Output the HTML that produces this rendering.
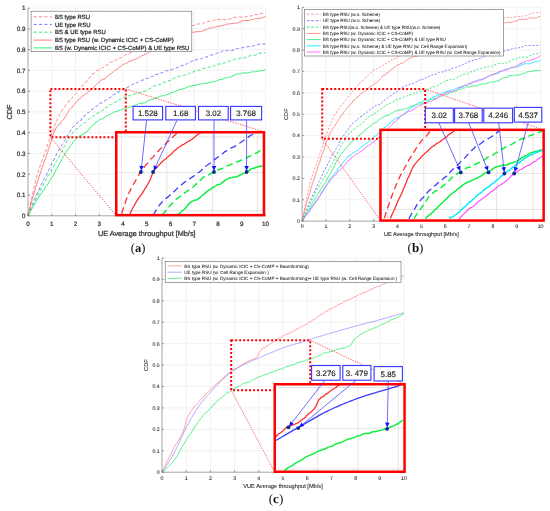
<!DOCTYPE html>
<html><head><meta charset="utf-8"><title>CDF of UE average throughput</title>
<style>html,body{margin:0;padding:0;background:#fff}svg{display:block}</style></head>
<body>
<svg width="550" height="511" viewBox="0 0 550 511" text-rendering="geometricPrecision">
<rect width="550" height="511" fill="#fff"/>
<path d="M51.75 215.8 V8.1 M28 195.03 H265.5 M75.5 215.8 V8.1 M28 174.26 H265.5 M99.25 215.8 V8.1 M28 153.49 H265.5 M123 215.8 V8.1 M28 132.72 H265.5 M146.75 215.8 V8.1 M28 111.95 H265.5 M170.5 215.8 V8.1 M28 91.18 H265.5 M194.25 215.8 V8.1 M28 70.41 H265.5 M218 215.8 V8.1 M28 49.64 H265.5 M241.75 215.8 V8.1 M28 28.87 H265.5 M265.5 215.8 V8.1 M28 8.1 H265.5" stroke="#e9e9e9" stroke-width="0.6" fill="none"/>
<path d="M28 215.8 L29.08 210.34 L30.17 205.21 L31.25 199.95 L32.34 195.23 L33.42 190.55 L34.51 185.65 L35.59 181.07 L36.68 176.97 L37.76 173.3 L38.84 169.64 L39.93 166.45 L41.01 163.02 L42.1 160.17 L43.18 157.46 L44.27 154.28 L45.35 151.64 L46.44 148.72 L47.52 144.92 L48.61 141.68 L49.69 138.8 L50.77 135.91 L51.86 132.64 L52.94 130.88 L54.03 126.96 L55.11 124.37 L56.2 122.58 L57.28 119.47 L58.37 117.5 L59.45 114.67 L60.53 113.7 L61.62 111.45 L62.7 109.12 L63.79 107.3 L64.87 107.09 L65.96 105.13 L67.04 103.53 L68.13 102.64 L69.21 100.63 L70.29 100.53 L71.38 98.78 L72.46 97.93 L73.55 95.66 L74.63 94.85 L75.72 93.65 L76.8 92.81 L77.89 90.2 L78.97 89.32 L80.05 88.18 L81.14 86.9 L82.22 86.07 L83.31 85.33 L84.39 84.29 L85.48 83.21 L86.56 80.98 L87.65 80.6 L88.73 78.86 L89.82 77.36 L90.9 75.78 L91.98 74.3 L93.07 73.82 L94.15 73.28 L95.24 71.96 L96.32 70.85 L97.41 70.4 L98.49 70.02 L99.58 69.67 L100.66 68.79 L101.74 68.29 L102.83 67.21 L103.91 67.15 L105 66.16 L106.08 65.62 L107.17 64.76 L108.25 64.23 L109.34 62.73 L110.42 62.5 L111.5 61.89 L112.59 61.89 L113.67 61.38 L114.76 60.91 L115.84 59.95 L116.93 59.95 L118.01 58.64 L119.1 58.16 L120.18 58.16 L121.26 57.88 L122.35 57.29 L123.43 56.46 L124.52 55.72 L125.6 54.7 L126.69 54.7 L127.77 54.21 L128.86 53.95 L129.94 52.8 L131.03 52.64 L132.11 51.87 L133.19 51.87 L134.28 51.39 L135.36 51.09 L136.45 49.69 L137.53 49.46 L138.62 49.28 L139.7 48.79 L140.79 47.9 L141.87 47.79 L142.95 47.32 L144.04 46.34 L145.12 45.17 L146.21 45.17 L147.29 45.17 L148.38 45.17 L149.46 44.77 L150.55 43.58 L151.63 42.83 L152.71 42.51 L153.8 41.75 L154.88 41.2 L155.97 40.55 L157.05 40.53 L158.14 39.6 L159.22 38.94 L160.31 38.82 L161.39 38.27 L162.47 37.96 L163.56 37.35 L164.64 36.48 L165.73 36.43 L166.81 35.82 L167.9 34.95 L168.98 34.51 L170.07 33.63 L171.15 33.63 L172.24 32.96 L173.32 32.88 L174.4 32.06 L175.49 31.22 L176.57 30.55 L177.66 29.99 L178.74 29.74 L179.83 28.76 L180.91 28.76 L182 28.69 L183.08 28 L184.16 28 L185.25 26.82 L186.33 26.82 L187.42 26.2 L188.5 26.2 L189.59 26.2 L190.67 26.13 L191.76 25.67 L192.84 25.67 L193.92 25.33 L195.01 25.18 L196.09 24.28 L197.18 24.28 L198.26 23.94 L199.35 23.94 L200.43 23.94 L201.52 23.8 L202.6 23.7 L203.68 22.93 L204.77 22.34 L205.85 22.34 L206.94 21.97 L208.02 21.34 L209.11 21.34 L210.19 21.28 L211.28 21.16 L212.36 21.16 L213.45 20.18 L214.53 20.18 L215.61 19.77 L216.7 19.77 L217.78 19.58 L218.87 19.58 L219.95 19.58 L221.04 19.58 L222.12 19.58 L223.21 19.58 L224.29 19.58 L225.37 19.58 L226.46 19.43 L227.54 19.43 L228.63 19.11 L229.71 19.11 L230.8 18.66 L231.88 18.66 L232.97 17.68 L234.05 17.37 L235.13 17.37 L236.22 17.28 L237.3 17.26 L238.39 17.26 L239.47 17.01 L240.56 17.01 L241.64 17.01 L242.73 17.01 L243.81 17.01 L244.89 16.97 L245.98 16.97 L247.06 16.37 L248.15 16.12 L249.23 16.12 L250.32 16.12 L251.4 15.81 L252.49 15.75 L253.57 14.64 L254.66 14.64 L255.74 14.64 L256.82 14.64 L257.91 14.34 L258.99 13.32 L260.08 13.32 L261.16 13.32 L262.25 13.32 L263.33 13.32 L264.42 12.93 L265.5 12.93" stroke="#ff6a6a" stroke-width="0.8" fill="none" stroke-dasharray="3.4 2.1" stroke-linejoin="round"/>
<path d="M28 215.8 L29.08 212.99 L30.17 210.29 L31.25 207.53 L32.34 204.65 L33.42 202.26 L34.51 199.34 L35.59 197.04 L36.68 194.35 L37.76 192.05 L38.84 190.12 L39.93 187.39 L41.01 184.86 L42.1 182.91 L43.18 180.8 L44.27 178.18 L45.35 176.45 L46.44 174.83 L47.52 172.48 L48.61 169.95 L49.69 168.48 L50.77 165.68 L51.86 163.2 L52.94 161.51 L54.03 159.72 L55.11 157.57 L56.2 154.88 L57.28 152.51 L58.37 150.91 L59.45 148.95 L60.53 147.46 L61.62 145.32 L62.7 143.76 L63.79 141.88 L64.87 140.32 L65.96 138.53 L67.04 136.29 L68.13 134.77 L69.21 133.04 L70.29 130.84 L71.38 129.61 L72.46 127.09 L73.55 126.52 L74.63 125.87 L75.72 124.19 L76.8 123.25 L77.89 122.58 L78.97 120.84 L80.05 120.47 L81.14 120.27 L82.22 117.82 L83.31 117.36 L84.39 115.61 L85.48 115.47 L86.56 114.67 L87.65 112.67 L88.73 112.67 L89.82 111.26 L90.9 109.88 L91.98 109.49 L93.07 108.72 L94.15 107.88 L95.24 106.85 L96.32 106.71 L97.41 105.44 L98.49 104.7 L99.58 103.29 L100.66 103.29 L101.74 103.06 L102.83 101.73 L103.91 101.44 L105 100.47 L106.08 99.82 L107.17 98.72 L108.25 98.64 L109.34 97.67 L110.42 97.67 L111.5 96.46 L112.59 94.81 L113.67 94.81 L114.76 94.21 L115.84 93.77 L116.93 92.46 L118.01 92 L119.1 91.9 L120.18 90.62 L121.26 90.19 L122.35 89.46 L123.43 89.45 L124.52 88.04 L125.6 88.02 L126.69 87.72 L127.77 87.37 L128.86 86.77 L129.94 85.75 L131.03 85.58 L132.11 84.49 L133.19 84.1 L134.28 83.24 L135.36 82.87 L136.45 82.68 L137.53 82.68 L138.62 81.62 L139.7 80.98 L140.79 80.77 L141.87 80.18 L142.95 80.12 L144.04 79.69 L145.12 79.51 L146.21 78.27 L147.29 78.27 L148.38 78.22 L149.46 78.18 L150.55 77.37 L151.63 76.31 L152.71 76.23 L153.8 76.23 L154.88 74.98 L155.97 74.55 L157.05 74.28 L158.14 73.94 L159.22 73.4 L160.31 73.22 L161.39 72.73 L162.47 72.73 L163.56 71.65 L164.64 71.65 L165.73 70.74 L166.81 70.74 L167.9 70.65 L168.98 70.24 L170.07 70.24 L171.15 69.81 L172.24 69.37 L173.32 69.06 L174.4 69.06 L175.49 68.57 L176.57 67.75 L177.66 67.26 L178.74 67.26 L179.83 66.84 L180.91 66.26 L182 65.42 L183.08 65.42 L184.16 65.25 L185.25 64.18 L186.33 64.12 L187.42 63.4 L188.5 62.62 L189.59 61.96 L190.67 61.96 L191.76 60.82 L192.84 60.82 L193.92 60.03 L195.01 60.03 L196.09 60.03 L197.18 59.35 L198.26 59.35 L199.35 59.35 L200.43 59.11 L201.52 58.44 L202.6 58.25 L203.68 57.86 L204.77 57.08 L205.85 57.08 L206.94 56.91 L208.02 56.56 L209.11 55.59 L210.19 55.32 L211.28 54.87 L212.36 54.87 L213.45 54.77 L214.53 54.08 L215.61 54.08 L216.7 53.33 L217.78 52.97 L218.87 52.97 L219.95 52.5 L221.04 52.13 L222.12 51.06 L223.21 50.65 L224.29 50.65 L225.37 50.65 L226.46 50.65 L227.54 50.65 L228.63 50.65 L229.71 50.65 L230.8 50.65 L231.88 50.65 L232.97 50.37 L234.05 49.84 L235.13 49.84 L236.22 48.78 L237.3 48.38 L238.39 48.38 L239.47 48.38 L240.56 47.75 L241.64 47.72 L242.73 47.72 L243.81 47.31 L244.89 47.19 L245.98 47.18 L247.06 46.8 L248.15 46.8 L249.23 46.41 L250.32 46.41 L251.4 46.41 L252.49 46.2 L253.57 45.76 L254.66 45.64 L255.74 45.64 L256.82 44.91 L257.91 44.87 L258.99 44.15 L260.08 44.15 L261.16 44.15 L262.25 44.15 L263.33 44.04 L264.42 44.04 L265.5 44.04" stroke="#7474ff" stroke-width="0.95" fill="none" stroke-dasharray="3.4 2.1" stroke-linejoin="round"/>
<path d="M28 215.8 L29.08 213.41 L30.17 211.13 L31.25 208.73 L32.34 206.53 L33.42 204.33 L34.51 202.09 L35.59 199.74 L36.68 197.83 L37.76 195.59 L38.84 193.47 L39.93 191.65 L41.01 188.82 L42.1 186.91 L43.18 185.05 L44.27 182.68 L45.35 181.4 L46.44 179.14 L47.52 176.51 L48.61 174.85 L49.69 174.1 L50.77 172.56 L51.86 169.76 L52.94 167.05 L54.03 165.71 L55.11 163.71 L56.2 161.5 L57.28 160.11 L58.37 157.69 L59.45 155.46 L60.53 153.55 L61.62 151.53 L62.7 149.75 L63.79 147.11 L64.87 145.47 L65.96 142.87 L67.04 140.49 L68.13 139.88 L69.21 138.67 L70.29 136.4 L71.38 134.62 L72.46 132.91 L73.55 131.65 L74.63 131.22 L75.72 130.19 L76.8 128.46 L77.89 128.43 L78.97 126.78 L80.05 126.48 L81.14 125.31 L82.22 124.51 L83.31 123.64 L84.39 122.78 L85.48 122.61 L86.56 121.21 L87.65 120.4 L88.73 119.37 L89.82 118.12 L90.9 117.78 L91.98 117.06 L93.07 116.24 L94.15 115.44 L95.24 114.41 L96.32 114.37 L97.41 113.03 L98.49 112.77 L99.58 112.39 L100.66 112.12 L101.74 110.79 L102.83 109.88 L103.91 109.88 L105 108.22 L106.08 107.32 L107.17 107.09 L108.25 106.31 L109.34 104.87 L110.42 104.61 L111.5 104.61 L112.59 103.69 L113.67 103.07 L114.76 102.41 L115.84 102.41 L116.93 100.81 L118.01 100.72 L119.1 99.82 L120.18 99.36 L121.26 98.42 L122.35 98.38 L123.43 98.14 L124.52 97.24 L125.6 96.52 L126.69 96.52 L127.77 95.8 L128.86 95.8 L129.94 95.8 L131.03 94.71 L132.11 94.71 L133.19 94.25 L134.28 94.25 L135.36 93.83 L136.45 93.83 L137.53 93.68 L138.62 92.65 L139.7 92.65 L140.79 92.39 L141.87 92.24 L142.95 91.57 L144.04 91.57 L145.12 91.21 L146.21 90.34 L147.29 90.08 L148.38 89.51 L149.46 88.74 L150.55 88.24 L151.63 87.77 L152.71 86.56 L153.8 86.29 L154.88 85.69 L155.97 85.65 L157.05 85.31 L158.14 85.23 L159.22 84.46 L160.31 84.46 L161.39 83.83 L162.47 82.97 L163.56 82.29 L164.64 82.18 L165.73 82.18 L166.81 81.51 L167.9 81.51 L168.98 80.54 L170.07 80.47 L171.15 79.7 L172.24 78.64 L173.32 78.64 L174.4 77.83 L175.49 77.83 L176.57 77.83 L177.66 76.86 L178.74 76.27 L179.83 76.27 L180.91 76.21 L182 76.21 L183.08 75.7 L184.16 74.99 L185.25 74.99 L186.33 74.94 L187.42 74.8 L188.5 73.69 L189.59 73.09 L190.67 72.74 L191.76 72.44 L192.84 72.44 L193.92 71.06 L195.01 71.06 L196.09 71.06 L197.18 70.39 L198.26 70.39 L199.35 70.02 L200.43 69.71 L201.52 69.17 L202.6 68.44 L203.68 68.41 L204.77 68.41 L205.85 68 L206.94 67.45 L208.02 67.13 L209.11 67.13 L210.19 67.13 L211.28 66.15 L212.36 65.96 L213.45 65.83 L214.53 65.83 L215.61 64.64 L216.7 64.64 L217.78 64.64 L218.87 63.92 L219.95 63.92 L221.04 63.92 L222.12 63.92 L223.21 63.17 L224.29 63.17 L225.37 62.63 L226.46 62.2 L227.54 62.17 L228.63 60.98 L229.71 60.98 L230.8 60.79 L231.88 60.22 L232.97 60.04 L234.05 59.39 L235.13 58.89 L236.22 58.89 L237.3 58.89 L238.39 58.77 L239.47 58.59 L240.56 58.03 L241.64 58.03 L242.73 57.93 L243.81 57.93 L244.89 57.93 L245.98 56.99 L247.06 56.99 L248.15 56.65 L249.23 55.77 L250.32 55.77 L251.4 55.7 L252.49 55.7 L253.57 55.34 L254.66 55.34 L255.74 54.76 L256.82 54.56 L257.91 54.05 L258.99 53.25 L260.08 53.25 L261.16 53.09 L262.25 53.09 L263.33 52.93 L264.42 52.9 L265.5 52.9" stroke="#38e87c" stroke-width="1.0" fill="none" stroke-dasharray="3.4 2.1" stroke-linejoin="round"/>
<path d="M28 215.8 L29.08 211.47 L30.17 207.27 L31.25 203.05 L32.34 198.98 L33.42 195.12 L34.51 191.45 L35.59 187.8 L36.68 184.19 L37.76 181.19 L38.84 177.56 L39.93 174.3 L41.01 171.1 L42.1 167.51 L43.18 164.89 L44.27 161.18 L45.35 158.64 L46.44 155.47 L47.52 152.46 L48.61 148.63 L49.69 145.8 L50.77 141.89 L51.86 138.97 L52.94 135.06 L54.03 132.09 L55.11 130.43 L56.2 127.88 L57.28 126.59 L58.37 124.61 L59.45 124.08 L60.53 123.44 L61.62 121.01 L62.7 120.26 L63.79 119.14 L64.87 117.28 L65.96 115.86 L67.04 113.58 L68.13 112.31 L69.21 109.83 L70.29 108.64 L71.38 108.06 L72.46 106.65 L73.55 105.01 L74.63 104.32 L75.72 102.53 L76.8 101.47 L77.89 100.77 L78.97 99.71 L80.05 98.36 L81.14 97.09 L82.22 96.17 L83.31 95.84 L84.39 94.66 L85.48 94.4 L86.56 93.07 L87.65 92.67 L88.73 91.12 L89.82 90.93 L90.9 89.91 L91.98 88.64 L93.07 87.5 L94.15 87.23 L95.24 85.88 L96.32 84.62 L97.41 83.57 L98.49 82.96 L99.58 81.59 L100.66 80.92 L101.74 79.6 L102.83 79.21 L103.91 79.2 L105 78.81 L106.08 77.22 L107.17 76.08 L108.25 75.62 L109.34 74.52 L110.42 74.2 L111.5 73.71 L112.59 72.1 L113.67 71.55 L114.76 70.51 L115.84 70.42 L116.93 69 L118.01 68.48 L119.1 67.15 L120.18 66.91 L121.26 66.19 L122.35 65.49 L123.43 64.14 L124.52 63.98 L125.6 63.67 L126.69 63.18 L127.77 62.63 L128.86 61.16 L129.94 61.16 L131.03 61.16 L132.11 60.36 L133.19 59.81 L134.28 59.81 L135.36 59.29 L136.45 58.85 L137.53 58.17 L138.62 57.92 L139.7 56.72 L140.79 56.66 L141.87 55.55 L142.95 55.55 L144.04 54.6 L145.12 54.6 L146.21 54.41 L147.29 53.09 L148.38 52.99 L149.46 51.91 L150.55 51.88 L151.63 50.33 L152.71 50.33 L153.8 50.22 L154.88 49.16 L155.97 48.32 L157.05 48.32 L158.14 47.28 L159.22 46.08 L160.31 45.9 L161.39 45.61 L162.47 45.21 L163.56 44.18 L164.64 44.18 L165.73 44.18 L166.81 43.24 L167.9 43.02 L168.98 41.61 L170.07 41.61 L171.15 41.61 L172.24 41.61 L173.32 40.65 L174.4 40.65 L175.49 40.22 L176.57 39.63 L177.66 39.16 L178.74 38.77 L179.83 38.2 L180.91 37.11 L182 36.31 L183.08 36.31 L184.16 34.71 L185.25 34.71 L186.33 33.97 L187.42 33.97 L188.5 33.61 L189.59 33.31 L190.67 33.01 L191.76 32.41 L192.84 32.18 L193.92 32.18 L195.01 32.11 L196.09 31.69 L197.18 31.62 L198.26 31.62 L199.35 31.62 L200.43 31.62 L201.52 31.62 L202.6 31.38 L203.68 29.91 L204.77 29.91 L205.85 29.66 L206.94 29.58 L208.02 28.43 L209.11 28.03 L210.19 28.03 L211.28 28.02 L212.36 28.02 L213.45 27.09 L214.53 27.09 L215.61 27.09 L216.7 26.52 L217.78 26.52 L218.87 26.26 L219.95 26 L221.04 26 L222.12 25.77 L223.21 25.12 L224.29 25.12 L225.37 25.12 L226.46 23.98 L227.54 23.98 L228.63 23.98 L229.71 23.98 L230.8 23.72 L231.88 23.45 L232.97 23.45 L234.05 23.16 L235.13 23.16 L236.22 23.16 L237.3 23.1 L238.39 22.65 L239.47 22.19 L240.56 22.19 L241.64 20.65 L242.73 20.65 L243.81 20.65 L244.89 20.65 L245.98 20.5 L247.06 20.5 L248.15 20.5 L249.23 20.5 L250.32 19.67 L251.4 19.67 L252.49 19.67 L253.57 19.67 L254.66 18.68 L255.74 18.68 L256.82 18.68 L257.91 18.59 L258.99 18.37 L260.08 18.37 L261.16 17.99 L262.25 17.58 L263.33 17.25 L264.42 16.76 L265.5 16.76" stroke="#ff6a6a" stroke-width="0.85" fill="none" stroke-linejoin="round"/>
<path d="M28 215.8 L29.08 213.81 L30.17 211.94 L31.25 210.06 L32.34 207.97 L33.42 206.09 L34.51 204.42 L35.59 202.23 L36.68 200.56 L37.76 198.56 L38.84 197 L39.93 195.16 L41.01 193.62 L42.1 192.36 L43.18 190.58 L44.27 189.18 L45.35 187.15 L46.44 186.29 L47.52 184.98 L48.61 182.61 L49.69 180.86 L50.77 178.92 L51.86 177.19 L52.94 176.26 L54.03 173.99 L55.11 171.89 L56.2 169.55 L57.28 168.3 L58.37 165.57 L59.45 163.53 L60.53 162.06 L61.62 159.76 L62.7 157.52 L63.79 156.18 L64.87 154.01 L65.96 152.31 L67.04 150.83 L68.13 149.17 L69.21 147.81 L70.29 145.61 L71.38 144.73 L72.46 143.35 L73.55 141.46 L74.63 140.73 L75.72 139.16 L76.8 137.88 L77.89 137.29 L78.97 136.49 L80.05 135.52 L81.14 134.94 L82.22 134.94 L83.31 134.43 L84.39 132.75 L85.48 132.36 L86.56 132.26 L87.65 130.92 L88.73 129.32 L89.82 128.61 L90.9 126.97 L91.98 126.03 L93.07 124.85 L94.15 124.57 L95.24 123.03 L96.32 121.7 L97.41 121.7 L98.49 120.4 L99.58 119.84 L100.66 119.32 L101.74 118.96 L102.83 118.75 L103.91 118.05 L105 116.85 L106.08 116.19 L107.17 115.54 L108.25 115.01 L109.34 114.41 L110.42 114.31 L111.5 114 L112.59 112.9 L113.67 112.22 L114.76 111.87 L115.84 111.87 L116.93 111.29 L118.01 111.27 L119.1 110.29 L120.18 110.29 L121.26 109.71 L122.35 109.22 L123.43 109 L124.52 108.26 L125.6 108.26 L126.69 108.26 L127.77 107.68 L128.86 107.26 L129.94 106.77 L131.03 106.73 L132.11 106.17 L133.19 105.87 L134.28 105.87 L135.36 105.23 L136.45 104.48 L137.53 104.48 L138.62 103.46 L139.7 103.46 L140.79 103.46 L141.87 103.02 L142.95 103.02 L144.04 103.02 L145.12 102.79 L146.21 102.07 L147.29 100.74 L148.38 100.66 L149.46 100.11 L150.55 100.02 L151.63 99.19 L152.71 99.13 L153.8 99.13 L154.88 98.67 L155.97 98.08 L157.05 97.37 L158.14 97.37 L159.22 96.96 L160.31 96.06 L161.39 96.06 L162.47 96.06 L163.56 95.47 L164.64 95.35 L165.73 95.13 L166.81 94.57 L167.9 94.37 L168.98 93.64 L170.07 93.56 L171.15 92.73 L172.24 92.73 L173.32 92.46 L174.4 91.65 L175.49 91.42 L176.57 90.52 L177.66 90.35 L178.74 90.08 L179.83 89.42 L180.91 89.37 L182 89.37 L183.08 88.96 L184.16 88.51 L185.25 88.08 L186.33 87.55 L187.42 86.99 L188.5 86.87 L189.59 86.16 L190.67 86.1 L191.76 86.1 L192.84 85.48 L193.92 85.41 L195.01 85.41 L196.09 85.17 L197.18 84.61 L198.26 84.61 L199.35 84.12 L200.43 84.1 L201.52 83.79 L202.6 83.79 L203.68 83.55 L204.77 83.55 L205.85 83.09 L206.94 83.09 L208.02 82.87 L209.11 82.28 L210.19 82.28 L211.28 82.27 L212.36 81.81 L213.45 81.81 L214.53 81.8 L215.61 81.33 L216.7 80.93 L217.78 80.18 L218.87 80.18 L219.95 79.47 L221.04 79.47 L222.12 79.39 L223.21 78.81 L224.29 78.08 L225.37 78.08 L226.46 78.08 L227.54 77.47 L228.63 77.34 L229.71 77.34 L230.8 77.01 L231.88 76.5 L232.97 75.82 L234.05 75.24 L235.13 75.24 L236.22 73.91 L237.3 73.91 L238.39 73.91 L239.47 73.91 L240.56 73.91 L241.64 73 L242.73 73 L243.81 73 L244.89 73 L245.98 73 L247.06 73 L248.15 72.71 L249.23 72.71 L250.32 72.03 L251.4 72.03 L252.49 72.03 L253.57 71.74 L254.66 71.74 L255.74 71.74 L256.82 71.34 L257.91 71.34 L258.99 71.17 L260.08 70.73 L261.16 70.73 L262.25 70.39 L263.33 70.39 L264.42 70.39 L265.5 69.09" stroke="#34ee78" stroke-width="1.0" fill="none" stroke-linejoin="round"/>
<path d="M28 8.1 V215.8 H265.5 M28 215.8 v-2 M28 215.8 h2 M51.75 215.8 v-2 M28 195.03 h2 M75.5 215.8 v-2 M28 174.26 h2 M99.25 215.8 v-2 M28 153.49 h2 M123 215.8 v-2 M28 132.72 h2 M146.75 215.8 v-2 M28 111.95 h2 M170.5 215.8 v-2 M28 91.18 h2 M194.25 215.8 v-2 M28 70.41 h2 M218 215.8 v-2 M28 49.64 h2 M241.75 215.8 v-2 M28 28.87 h2 M265.5 215.8 v-2 M28 8.1 h2" stroke="#5a5a5a" stroke-width="0.55" fill="none"/>
<g font-family='"Liberation Sans", Arial, sans-serif' font-size="6.3" fill="#2c2c2c" stroke="#2c2c2c" stroke-width="0.19">
<text x="28" y="225.6" text-anchor="middle">0</text>
<text x="51.75" y="225.6" text-anchor="middle">1</text>
<text x="75.5" y="225.6" text-anchor="middle">2</text>
<text x="99.25" y="225.6" text-anchor="middle">3</text>
<text x="123" y="225.6" text-anchor="middle">4</text>
<text x="146.75" y="225.6" text-anchor="middle">5</text>
<text x="170.5" y="225.6" text-anchor="middle">6</text>
<text x="194.25" y="225.6" text-anchor="middle">7</text>
<text x="218" y="225.6" text-anchor="middle">8</text>
<text x="241.75" y="225.6" text-anchor="middle">9</text>
<text x="265.5" y="225.6" text-anchor="middle">10</text>
<text x="25.6" y="218.07" text-anchor="end">0</text>
<text x="25.6" y="197.3" text-anchor="end">0.1</text>
<text x="25.6" y="176.53" text-anchor="end">0.2</text>
<text x="25.6" y="155.76" text-anchor="end">0.3</text>
<text x="25.6" y="134.99" text-anchor="end">0.4</text>
<text x="25.6" y="114.22" text-anchor="end">0.5</text>
<text x="25.6" y="93.45" text-anchor="end">0.6</text>
<text x="25.6" y="72.68" text-anchor="end">0.7</text>
<text x="25.6" y="51.91" text-anchor="end">0.8</text>
<text x="25.6" y="31.14" text-anchor="end">0.9</text>
<text x="25.6" y="10.37" text-anchor="end">1</text>
</g>
<g font-family='"Liberation Sans", Arial, sans-serif' font-size="7.3" fill="#2c2c2c" stroke="#2c2c2c" stroke-width="0.23">
<text x="146.75" y="235.5" text-anchor="middle">UE Average throughput [Mb/s]</text>
<text transform="translate(12 111.95) rotate(-90)" text-anchor="middle">CDF</text>
</g>
<rect x="31.1" y="11.2" width="160.7" height="40.5" fill="#fff" stroke="#666" stroke-width="0.6"/>
<g font-family='"Liberation Sans", Arial, sans-serif' font-size="5.99" fill="#222" stroke="#222" stroke-width="0.21">
<path d="M33.6 16.8 H52.1" stroke="#ff6a6a" stroke-width="0.8" stroke-dasharray="3.1 2.3"/>
<text x="54.9" y="18.96">BS type RSU</text>
<path d="M33.6 24.4 H52.1" stroke="#7474ff" stroke-width="0.95" stroke-dasharray="3.1 2.3"/>
<text x="54.9" y="26.56">UE type RSU</text>
<path d="M33.6 32.2 H52.1" stroke="#38e87c" stroke-width="1.0" stroke-dasharray="3.1 2.3"/>
<text x="54.9" y="34.36">BS &amp; UE type RSU</text>
<path d="M33.6 40.1 H52.1" stroke="#ff6a6a" stroke-width="0.85"/>
<text x="54.9" y="42.26">BS type RSU (w. Dynamic ICIC + CS-CoMP)</text>
<path d="M33.6 47.9 H52.1" stroke="#34ee78" stroke-width="1.0"/>
<text x="54.9" y="50.06">BS (w. Dynamic ICIC + CS-CoMP) &amp; UE type RSU</text>
</g>
<rect x="50.4" y="89" width="75.4" height="48.2" fill="none" stroke="#ff0000" stroke-width="2" stroke-dasharray="2 2"/>
<path d="M50.4 137.2 L116 215.5" stroke="#ff2020" stroke-width="0.7" stroke-dasharray="1.4 1.2" fill="none"/>
<path d="M125.8 89 L264.5 132" stroke="#ff2020" stroke-width="0.7" stroke-dasharray="1.4 1.2" fill="none"/>
<rect x="115" y="131" width="150.2" height="85.4" fill="#fff"/>
<clipPath id="c115"><rect x="116.25" y="132.25" width="147.7" height="82.9"/></clipPath>
<path d="M121.4 131 V216.4 M166.8 131 V216.4 M212.4 131 V216.4 M257.4 131 V216.4 M115 137.1 H265.2 M115 172.6 H265.2 M115 210.7 H265.2" stroke="#d8d8d8" stroke-width="0.65" fill="none"/>
<g clip-path="url(#c115)" fill="none" stroke-linejoin="round">
<path d="M121.7 213.5 L122.69 209.99 L123.68 207.28 L124.66 204.64 L125.65 201.54 L126.64 198.65 L127.63 196.21 L128.62 193.73 L129.61 191.55 L130.59 189.59 L131.58 187.5 L132.57 185.71 L133.56 183.99 L134.55 182.44 L135.53 180.9 L136.52 178.66 L137.51 176.98 L138.5 175.56 L139.49 173.66 L140.47 172.51 L141.46 171.2 L142.45 169.62 L143.44 168.56 L144.43 167.17 L145.42 165.54 L146.4 164.44 L147.39 163.57 L148.38 162.39 L149.37 160.71 L150.36 159.34 L151.34 158.44 L152.33 157.77 L153.32 156.86 L154.31 155.59 L155.3 154.58 L156.28 153.33 L157.27 152.16 L158.26 151.27 L159.25 150 L160.24 148.91 L161.23 148.19 L162.21 147.03 L163.2 146.09 L164.19 145.45 L165.18 144.52 L166.17 143.28 L167.15 142.15 L168.14 141.57 L169.13 140.71 L170.12 139.35 L171.11 138.29 L172.09 137.71 L173.08 136.7 L174.07 135.57 L175.06 135.09 L176.05 134.08 L177.04 132.69 L178.02 131.61 L179.01 130.61 L180 130" stroke="#ff3030" stroke-width="1.3" stroke-dasharray="6.5 3.8"/>
<path d="M129.6 215 L130.84 212.04 L132.09 209.27 L133.33 206.97 L134.58 204.91 L135.82 202.6 L137.06 200.6 L138.31 198.81 L139.55 196.98 L140.8 195.4 L142.04 193.64 L143.28 191.56 L144.53 189.46 L145.77 187.66 L147.02 185.44 L148.26 183.22 L149.51 181.16 L150.75 178.48 L151.99 174.78 L153.24 171.74 L154.48 169.91 L155.73 168.28 L156.97 166.88 L158.21 165.84 L159.46 164.65 L160.7 163.19 L161.95 161.93 L163.19 160.63 L164.43 159.76 L165.68 158.97 L166.92 157.81 L168.17 156.62 L169.41 155.45 L170.65 154.55 L171.9 153.55 L173.14 152.05 L174.39 150.85 L175.63 149.94 L176.87 148.59 L178.12 147.72 L179.36 146.93 L180.61 145.99 L181.85 145.17 L183.09 144.55 L184.34 143.99 L185.58 143.22 L186.83 142.32 L188.07 141.49 L189.32 140.89 L190.56 140.33 L191.8 139.36 L193.05 138.46 L194.29 137.53 L195.54 136.15 L196.78 135.33 L198.02 134.44 L199.27 133.5 L200.51 132.98 L201.76 131.99 L203 131" stroke="#ff3030" stroke-width="1.3"/>
<path d="M153.1 215 L154.88 212.35 L156.66 209.08 L158.43 206.56 L160.21 204.21 L161.99 202.11 L163.77 200.55 L165.55 198.67 L167.32 197.4 L169.1 196.1 L170.88 194.05 L172.66 192.7 L174.44 191.27 L176.21 189.36 L177.99 187.84 L179.77 186.37 L181.55 184.76 L183.33 183.27 L185.1 181.85 L186.88 180.8 L188.66 179.61 L190.44 178.29 L192.22 177.17 L193.99 175.86 L195.77 174.32 L197.55 172.96 L199.33 171.97 L201.11 170.47 L202.88 168.63 L204.66 167.08 L206.44 165.69 L208.22 164.48 L209.99 163.16 L211.77 161.8 L213.55 160.37 L215.33 158.89 L217.11 157.68 L218.88 156.53 L220.66 155.21 L222.44 153.74 L224.22 152.18 L226 151.12 L227.77 150.29 L229.55 148.87 L231.33 147.87 L233.11 147.2 L234.89 146.3 L236.66 144.97 L238.44 143.44 L240.22 142.74 L242 141.58 L243.78 140.2 L245.55 139.13 L247.33 137.82 L249.11 136.38 L250.89 135.22 L252.67 134.48 L254.44 133.43 L256.22 132.22 L258 131" stroke="#3c3cff" stroke-width="1.3" stroke-dasharray="6.5 3.8"/>
<path d="M161.9 215 L163.61 213.3 L165.32 211.24 L167.03 208.94 L168.73 206.95 L170.44 205.18 L172.15 203.36 L173.86 201.82 L175.57 199.86 L177.28 198.28 L178.98 197.24 L180.69 196.02 L182.4 194.76 L184.11 193.41 L185.82 192.07 L187.53 190.85 L189.24 189.72 L190.94 188.77 L192.65 187.44 L194.36 185.81 L196.07 184.1 L197.78 182.72 L199.49 181.41 L201.19 179.42 L202.9 177.59 L204.61 176.53 L206.32 175.62 L208.03 175.03 L209.74 174.34 L211.45 173.06 L213.15 172.15 L214.86 171.76 L216.57 170.82 L218.28 169.82 L219.99 169.22 L221.7 168.52 L223.41 167.76 L225.11 166.69 L226.82 165.99 L228.53 165.4 L230.24 164.81 L231.95 164.13 L233.66 163.63 L235.36 162.94 L237.07 162 L238.78 161.22 L240.49 160.48 L242.2 159.88 L243.91 159.15 L245.62 158.51 L247.32 157.57 L249.03 156.43 L250.74 155.86 L252.45 155.08 L254.16 153.9 L255.87 153.27 L257.57 152.62 L259.28 151.05 L260.99 149.92 L262.7 149.5" stroke="#10ee40" stroke-width="1.5" stroke-dasharray="6.5 3.8"/>
<path d="M176.5 215 L177.96 214.25 L179.42 213.41 L180.88 212.27 L182.34 210.76 L183.81 209.63 L185.27 208.21 L186.73 206.45 L188.19 204.67 L189.65 202.91 L191.11 201.98 L192.57 201.14 L194.03 200.28 L195.49 200.15 L196.95 199.62 L198.42 198.78 L199.88 197.71 L201.34 196.26 L202.8 195 L204.26 193.8 L205.72 192.58 L207.18 191.37 L208.64 190.38 L210.1 189.48 L211.56 188.37 L213.03 187.38 L214.49 186.75 L215.95 185.75 L217.41 184.64 L218.87 184.41 L220.33 184.15 L221.79 182.98 L223.25 181.81 L224.71 180.63 L226.17 179.39 L227.64 178.83 L229.1 178.23 L230.56 177.85 L232.02 177.58 L233.48 177.1 L234.94 177.1 L236.4 177.04 L237.86 176.17 L239.32 175.48 L240.78 174.74 L242.25 173.81 L243.71 173.38 L245.17 173.02 L246.63 172.14 L248.09 171.17 L249.55 170.37 L251.01 169.15 L252.47 168.31 L253.93 168.19 L255.39 167.68 L256.86 167.03 L258.32 166.76 L259.78 166.19 L261.24 165.98 L262.7 165.7" stroke="#10ee40" stroke-width="1.5"/>
</g>
<rect x="116.25" y="132.25" width="147.7" height="82.9" fill="none" stroke="#ff0000" stroke-width="2.5"/>
<path d="M146.5 120.3 L141.2 170.5" stroke="#3c3cff" stroke-width="0.75" fill="none"/>
<path d="M141.2 170.5 L143.97 166.17 L139.4 165.68 Z" fill="#1010ff"/>
<path d="M177 120.3 L153.8 170.5" stroke="#3c3cff" stroke-width="0.75" fill="none"/>
<path d="M153.8 170.5 L157.82 167.29 L153.64 165.36 Z" fill="#1010ff"/>
<path d="M214 120.3 L214 170.5" stroke="#3c3cff" stroke-width="0.75" fill="none"/>
<path d="M214 170.5 L216.3 165.9 L211.7 165.9 Z" fill="#1010ff"/>
<path d="M246.6 120.3 L246.6 170.5" stroke="#3c3cff" stroke-width="0.75" fill="none"/>
<path d="M246.6 170.5 L248.9 165.9 L244.3 165.9 Z" fill="#1010ff"/>
<circle cx="140.9" cy="172" r="1.9" fill="#0a2a8c"/>
<circle cx="153.1" cy="172" r="1.9" fill="#0a2a8c"/>
<circle cx="214" cy="172" r="1.9" fill="#0a2a8c"/>
<circle cx="246.6" cy="172" r="1.9" fill="#0a2a8c"/>
<rect x="133.1" y="106.4" width="29.5" height="13.5" fill="#fff" stroke="#3535ff" stroke-width="1.1"/>
<text x="147.85" y="116" text-anchor="middle" font-family='"Liberation Sans", Arial, sans-serif' font-size="7.9" fill="#1a1a1a" stroke="#1a1a1a" stroke-width="0.15">1.528</text>
<rect x="165.8" y="106.4" width="29.6" height="13.5" fill="#fff" stroke="#3535ff" stroke-width="1.1"/>
<text x="180.6" y="116" text-anchor="middle" font-family='"Liberation Sans", Arial, sans-serif' font-size="7.9" fill="#1a1a1a" stroke="#1a1a1a" stroke-width="0.15">1.68</text>
<rect x="198.5" y="106.4" width="29.7" height="13.5" fill="#fff" stroke="#3535ff" stroke-width="1.1"/>
<text x="213.35" y="116" text-anchor="middle" font-family='"Liberation Sans", Arial, sans-serif' font-size="7.9" fill="#1a1a1a" stroke="#1a1a1a" stroke-width="0.15">3.02</text>
<rect x="230.6" y="106.4" width="31" height="13.5" fill="#fff" stroke="#3535ff" stroke-width="1.1"/>
<text x="246.1" y="116" text-anchor="middle" font-family='"Liberation Sans", Arial, sans-serif' font-size="7.9" fill="#1a1a1a" stroke="#1a1a1a" stroke-width="0.15">3.768</text>
<text x="138" y="251.7" text-anchor="middle" font-family='"Liberation Serif", "DejaVu Serif", serif' font-size="12.5" fill="#111">(<tspan font-weight="bold">a</tspan>)</text>
<path d="M325.95 221.1 V7.3 M302.1 199.72 H540.6 M349.8 221.1 V7.3 M302.1 178.34 H540.6 M373.65 221.1 V7.3 M302.1 156.96 H540.6 M397.5 221.1 V7.3 M302.1 135.58 H540.6 M421.35 221.1 V7.3 M302.1 114.2 H540.6 M445.2 221.1 V7.3 M302.1 92.82 H540.6 M469.05 221.1 V7.3 M302.1 71.44 H540.6 M492.9 221.1 V7.3 M302.1 50.06 H540.6 M516.75 221.1 V7.3 M302.1 28.68 H540.6 M540.6 221.1 V7.3 M302.1 7.3 H540.6" stroke="#e9e9e9" stroke-width="0.6" fill="none"/>
<path d="M302.1 221.1 L303.19 215.5 L304.28 210.02 L305.37 204.76 L306.46 199.53 L307.55 194.47 L308.63 189.51 L309.72 184.67 L310.81 180.61 L311.9 176.71 L312.99 173.32 L314.08 169.81 L315.17 167.55 L316.26 164.38 L317.35 161.2 L318.44 158.45 L319.52 154.95 L320.61 152.14 L321.7 148.32 L322.79 144.73 L323.88 140.89 L324.97 138.3 L326.06 135.08 L327.15 132.8 L328.24 129.98 L329.33 126.69 L330.42 124.43 L331.5 121.59 L332.59 119.48 L333.68 116.71 L334.77 114.57 L335.86 113.95 L336.95 111.16 L338.04 110.04 L339.13 108.41 L340.22 107.1 L341.31 105.29 L342.39 104.57 L343.48 103.04 L344.57 101.71 L345.66 99.98 L346.75 98.32 L347.84 97 L348.93 95.76 L350.02 94.75 L351.11 93.83 L352.2 91.62 L353.28 90.4 L354.37 89.05 L355.46 87.38 L356.55 86.76 L357.64 85.53 L358.73 85.12 L359.82 82.81 L360.91 82.04 L362 81.34 L363.09 79.97 L364.18 79.6 L365.26 78.51 L366.35 76.67 L367.44 76.21 L368.53 75.04 L369.62 74.03 L370.71 73.03 L371.8 72.19 L372.89 70.41 L373.98 70.38 L375.07 69.34 L376.15 69.11 L377.24 68.58 L378.33 68.58 L379.42 68.08 L380.51 66.22 L381.6 65.74 L382.69 65.74 L383.78 64.86 L384.87 63.9 L385.96 63.82 L387.05 62.07 L388.13 62.07 L389.22 61.72 L390.31 61.72 L391.4 59.8 L392.49 59.8 L393.58 58.72 L394.67 58.72 L395.76 58.19 L396.85 57.78 L397.94 57.21 L399.02 55.99 L400.11 55.42 L401.2 55.27 L402.29 55.27 L403.38 54.5 L404.47 53.68 L405.56 53.34 L406.65 52.7 L407.74 52.1 L408.83 52 L409.92 50.93 L411 49.85 L412.09 49.85 L413.18 49.46 L414.27 48.68 L415.36 48.68 L416.45 48.06 L417.54 48.06 L418.63 47.28 L419.72 47.12 L420.81 46.45 L421.89 45.81 L422.98 45.24 L424.07 44.71 L425.16 44.71 L426.25 42.97 L427.34 42.97 L428.43 42.92 L429.52 42.19 L430.61 41.28 L431.7 41.23 L432.78 40.47 L433.87 39.97 L434.96 39.07 L436.05 39.05 L437.14 38.08 L438.23 37.62 L439.32 37.32 L440.41 36.2 L441.5 36.08 L442.59 35.97 L443.68 34.84 L444.76 34.35 L445.85 33.87 L446.94 33.25 L448.03 32 L449.12 32 L450.21 31.86 L451.3 31.69 L452.39 30.66 L453.48 30.66 L454.57 30.56 L455.65 30.2 L456.74 29.01 L457.83 28.41 L458.92 28.41 L460.01 27.99 L461.1 26.99 L462.19 26.56 L463.28 26.56 L464.37 26.56 L465.46 25.89 L466.55 25.89 L467.63 25.89 L468.72 25.73 L469.81 25.63 L470.9 24.72 L471.99 24.24 L473.08 24.24 L474.17 23.58 L475.26 22.84 L476.35 22.84 L477.44 22.37 L478.52 22.37 L479.61 21.73 L480.7 21.73 L481.79 21.07 L482.88 21.07 L483.97 21.07 L485.06 21.07 L486.15 20.97 L487.24 20.76 L488.33 20.59 L489.42 20.2 L490.5 19.61 L491.59 19.35 L492.68 19.35 L493.77 18.88 L494.86 18.88 L495.95 18.88 L497.04 18.88 L498.13 18.51 L499.22 18.51 L500.31 18.51 L501.39 17.96 L502.48 17.69 L503.57 17.69 L504.66 17.69 L505.75 17.69 L506.84 17.67 L507.93 17.67 L509.02 17.67 L510.11 17.67 L511.2 17.67 L512.28 17.67 L513.37 16.67 L514.46 16.67 L515.55 16.67 L516.64 16.67 L517.73 16.67 L518.82 16.67 L519.91 16.66 L521 16.66 L522.09 16.35 L523.18 15.87 L524.26 15.87 L525.35 15.87 L526.44 15.51 L527.53 15.04 L528.62 14.58 L529.71 14.25 L530.8 13.98 L531.89 13.49 L532.98 13.49 L534.07 12.76 L535.15 12.49 L536.24 12.49 L537.33 12.49 L538.42 12.49 L539.51 12.49 L540.6 12.49" stroke="#ff6a6a" stroke-width="0.7" fill="none" stroke-dasharray="2.1 1.7" stroke-linejoin="round"/>
<path d="M302.1 221.1 L303.19 218.21 L304.28 215.39 L305.37 212.64 L306.46 209.76 L307.55 207.29 L308.63 204.63 L309.72 201.77 L310.81 199.17 L311.9 196.84 L312.99 194.79 L314.08 192.44 L315.17 190.15 L316.26 187.96 L317.35 185.41 L318.44 182.48 L319.52 180.46 L320.61 178.46 L321.7 176.13 L322.79 173.97 L323.88 170.78 L324.97 169.87 L326.06 166.86 L327.15 165.41 L328.24 163.17 L329.33 161.26 L330.42 158.24 L331.5 156.67 L332.59 153.73 L333.68 153.31 L334.77 151.44 L335.86 148.9 L336.95 147.04 L338.04 145.51 L339.13 144.16 L340.22 140.81 L341.31 139.19 L342.39 137.38 L343.48 135.98 L344.57 133.79 L345.66 132.61 L346.75 130.85 L347.84 129.48 L348.93 127.55 L350.02 126.93 L351.11 125.65 L352.2 123.9 L353.28 123.13 L354.37 122.18 L355.46 121.26 L356.55 119.83 L357.64 119.49 L358.73 118.14 L359.82 116.65 L360.91 116.38 L362 115.95 L363.09 115.25 L364.18 113.9 L365.26 113.62 L366.35 112.98 L367.44 111.9 L368.53 111.23 L369.62 109.7 L370.71 109.7 L371.8 107.9 L372.89 107.9 L373.98 106.92 L375.07 106.03 L376.15 105.58 L377.24 104.77 L378.33 104.77 L379.42 104.67 L380.51 103.25 L381.6 103.2 L382.69 101.87 L383.78 100.38 L384.87 99.92 L385.96 99.19 L387.05 98.51 L388.13 97.31 L389.22 96.46 L390.31 96.33 L391.4 94.93 L392.49 94.8 L393.58 93.66 L394.67 93.29 L395.76 92.12 L396.85 91.41 L397.94 90.94 L399.02 90.19 L400.11 89.2 L401.2 88.06 L402.29 87.42 L403.38 87.03 L404.47 86.52 L405.56 85.58 L406.65 85.58 L407.74 85.11 L408.83 85.11 L409.92 83.95 L411 83.95 L412.09 83.71 L413.18 83.69 L414.27 82.88 L415.36 82.21 L416.45 81.5 L417.54 81.5 L418.63 81.48 L419.72 79.32 L420.81 79.32 L421.89 79.32 L422.98 79.21 L424.07 79.21 L425.16 77.87 L426.25 77.87 L427.34 77.87 L428.43 76.43 L429.52 76.43 L430.61 76.22 L431.7 75.11 L432.78 74.72 L433.87 74.69 L434.96 74.18 L436.05 74.18 L437.14 73.99 L438.23 72.72 L439.32 72.19 L440.41 72.19 L441.5 72.01 L442.59 72.01 L443.68 71.65 L444.76 71.65 L445.85 70.34 L446.94 70.34 L448.03 70.12 L449.12 69.87 L450.21 69.87 L451.3 68.29 L452.39 68.29 L453.48 68.29 L454.57 67.76 L455.65 67.76 L456.74 67.1 L457.83 67.1 L458.92 66.19 L460.01 66.05 L461.1 66.05 L462.19 64.79 L463.28 64.58 L464.37 64.55 L465.46 63.47 L466.55 62.93 L467.63 61.87 L468.72 61.87 L469.81 61.38 L470.9 61.34 L471.99 60.65 L473.08 60.59 L474.17 60.1 L475.26 59.48 L476.35 59.48 L477.44 59.48 L478.52 58.65 L479.61 58.49 L480.7 57.95 L481.79 57.42 L482.88 57.41 L483.97 56.3 L485.06 56.22 L486.15 55.61 L487.24 54.8 L488.33 54.35 L489.42 54.09 L490.5 53.71 L491.59 53.71 L492.68 53.71 L493.77 53.71 L494.86 53.45 L495.95 53.45 L497.04 53.45 L498.13 52.71 L499.22 52.22 L500.31 52.22 L501.39 51.83 L502.48 51.61 L503.57 51.14 L504.66 50.75 L505.75 50.58 L506.84 50.18 L507.93 50.15 L509.02 50.05 L510.11 49.58 L511.2 49.22 L512.28 48.7 L513.37 48.7 L514.46 48.46 L515.55 47.99 L516.64 47.99 L517.73 47.99 L518.82 47.73 L519.91 47.65 L521 47.65 L522.09 46.69 L523.18 46.69 L524.26 46.69 L525.35 45.49 L526.44 45.49 L527.53 45.49 L528.62 45.49 L529.71 45.49 L530.8 45.49 L531.89 45.49 L532.98 45.49 L534.07 45.49 L535.15 45.49 L536.24 45.47 L537.33 45.47 L538.42 45.47 L539.51 45.41 L540.6 45.04" stroke="#7474ff" stroke-width="0.9" fill="none" stroke-dasharray="2.1 1.7" stroke-linejoin="round"/>
<path d="M302.1 221.1 L303.19 218.7 L304.28 216.24 L305.37 213.86 L306.46 211.56 L307.55 209.35 L308.63 206.86 L309.72 204.49 L310.81 202.31 L311.9 199.89 L312.99 197.95 L314.08 195.52 L315.17 193.21 L316.26 191.03 L317.35 188.24 L318.44 187.14 L319.52 185.71 L320.61 183.48 L321.7 182.51 L322.79 180.24 L323.88 178.35 L324.97 176.81 L326.06 174.74 L327.15 172.99 L328.24 170.59 L329.33 168.93 L330.42 166.04 L331.5 164.43 L332.59 162.68 L333.68 161.04 L334.77 157.61 L335.86 155.76 L336.95 153.85 L338.04 151.65 L339.13 149.55 L340.22 147.73 L341.31 144.79 L342.39 143.48 L343.48 142.25 L344.57 140.23 L345.66 139.38 L346.75 136.52 L347.84 135.09 L348.93 133.43 L350.02 132.12 L351.11 132.12 L352.2 130.62 L353.28 129.51 L354.37 128.8 L355.46 128.51 L356.55 127.19 L357.64 126.47 L358.73 125.3 L359.82 124.99 L360.91 124.1 L362 123.23 L363.09 122.2 L364.18 121.39 L365.26 120.27 L366.35 119 L367.44 118.11 L368.53 116.98 L369.62 116.27 L370.71 115.68 L371.8 115.6 L372.89 114.2 L373.98 113.25 L375.07 113.25 L376.15 112.55 L377.24 111.69 L378.33 110.93 L379.42 109.85 L380.51 109.32 L381.6 108.04 L382.69 107.99 L383.78 106.92 L384.87 106.43 L385.96 105.98 L387.05 104.58 L388.13 104.37 L389.22 103.55 L390.31 103.25 L391.4 102.23 L392.49 101.65 L393.58 101.36 L394.67 101.36 L395.76 99.85 L396.85 99.43 L397.94 99.2 L399.02 98.77 L400.11 98.42 L401.2 98.02 L402.29 98.02 L403.38 97.4 L404.47 96.81 L405.56 96.74 L406.65 96.46 L407.74 94.95 L408.83 94.95 L409.92 94.95 L411 94.69 L412.09 94.69 L413.18 94.43 L414.27 93.66 L415.36 92.75 L416.45 92.75 L417.54 92.75 L418.63 91.56 L419.72 91.56 L420.81 91.52 L421.89 90.89 L422.98 90.89 L424.07 90.74 L425.16 90.05 L426.25 89.61 L427.34 89.61 L428.43 88.56 L429.52 88.56 L430.61 88.56 L431.7 86.76 L432.78 86.76 L433.87 86.76 L434.96 86.76 L436.05 86.23 L437.14 85.93 L438.23 85.34 L439.32 84.47 L440.41 83.47 L441.5 83.22 L442.59 82.37 L443.68 82.37 L444.76 81.24 L445.85 81.01 L446.94 80.23 L448.03 80.23 L449.12 80.23 L450.21 79.62 L451.3 79.62 L452.39 79.62 L453.48 79.62 L454.57 79.09 L455.65 78.22 L456.74 77.49 L457.83 77.34 L458.92 76.62 L460.01 75.7 L461.1 75.66 L462.19 74.54 L463.28 74.54 L464.37 74.3 L465.46 74.3 L466.55 74.24 L467.63 73.72 L468.72 73.18 L469.81 72.89 L470.9 71.85 L471.99 71.47 L473.08 71.16 L474.17 71.16 L475.26 69.59 L476.35 69.59 L477.44 69.29 L478.52 69.29 L479.61 68.96 L480.7 68.42 L481.79 68.32 L482.88 67.78 L483.97 67.78 L485.06 66.92 L486.15 66.92 L487.24 66.92 L488.33 66.63 L489.42 66.63 L490.5 66.63 L491.59 66.63 L492.68 65.29 L493.77 65.29 L494.86 64.82 L495.95 64.57 L497.04 63.95 L498.13 63.57 L499.22 63.57 L500.31 63.57 L501.39 63.57 L502.48 63.57 L503.57 63.28 L504.66 63.28 L505.75 62.87 L506.84 62.86 L507.93 61.93 L509.02 61.67 L510.11 60.97 L511.2 60.86 L512.28 59.65 L513.37 59.65 L514.46 59.65 L515.55 58.89 L516.64 58.89 L517.73 58.87 L518.82 57.27 L519.91 57.27 L521 57.27 L522.09 57.27 L523.18 57.27 L524.26 57.27 L525.35 57.16 L526.44 57.02 L527.53 57.02 L528.62 56.4 L529.71 55.67 L530.8 55.57 L531.89 55.08 L532.98 54.06 L534.07 53.91 L535.15 53.91 L536.24 53.89 L537.33 53.63 L538.42 53.31 L539.51 53.31 L540.6 52.34" stroke="#38e87c" stroke-width="1.0" fill="none" stroke-dasharray="2.1 1.7" stroke-linejoin="round"/>
<path d="M302.1 221.1 L303.19 216.66 L304.28 212.21 L305.37 208.13 L306.46 203.95 L307.55 200.22 L308.63 196.69 L309.72 193.04 L310.81 189.35 L311.9 185.73 L312.99 182.02 L314.08 178.92 L315.17 175.52 L316.26 172.32 L317.35 168.7 L318.44 165.41 L319.52 163.17 L320.61 158.83 L321.7 155.8 L322.79 152.11 L323.88 150 L324.97 146.08 L326.06 142.7 L327.15 140.12 L328.24 137.26 L329.33 135.06 L330.42 132.48 L331.5 130.67 L332.59 128.59 L333.68 127.62 L334.77 126.39 L335.86 124.05 L336.95 122.38 L338.04 120.45 L339.13 118.53 L340.22 117.54 L341.31 115.37 L342.39 114.55 L343.48 112.68 L344.57 111.08 L345.66 110.01 L346.75 108.39 L347.84 107.6 L348.93 105.99 L350.02 104.45 L351.11 103.82 L352.2 102.59 L353.28 100.21 L354.37 99.92 L355.46 99.25 L356.55 98.27 L357.64 96.3 L358.73 96.3 L359.82 94.92 L360.91 93.72 L362 93.35 L363.09 92.1 L364.18 91.86 L365.26 90.63 L366.35 89.79 L367.44 88.98 L368.53 88.1 L369.62 87.32 L370.71 86.08 L371.8 85.79 L372.89 85.09 L373.98 84.14 L375.07 83.28 L376.15 82.84 L377.24 82.06 L378.33 80.92 L379.42 79.34 L380.51 78.77 L381.6 77.72 L382.69 75.6 L383.78 75.42 L384.87 75.08 L385.96 74.41 L387.05 72.81 L388.13 72.81 L389.22 71.19 L390.31 70.51 L391.4 69.29 L392.49 69.21 L393.58 67.73 L394.67 67.73 L395.76 66.52 L396.85 65.36 L397.94 64.91 L399.02 64.91 L400.11 63.79 L401.2 63.35 L402.29 63.05 L403.38 62.79 L404.47 61.88 L405.56 61.27 L406.65 59.98 L407.74 59.46 L408.83 58.53 L409.92 57.99 L411 57.99 L412.09 57.39 L413.18 56.32 L414.27 56.32 L415.36 56.32 L416.45 56.32 L417.54 56.23 L418.63 55.4 L419.72 54.69 L420.81 54.29 L421.89 53.94 L422.98 53.26 L424.07 53.26 L425.16 52.28 L426.25 51.82 L427.34 51.41 L428.43 50.71 L429.52 50.39 L430.61 48.97 L431.7 48.97 L432.78 48.7 L433.87 47.5 L434.96 47.09 L436.05 46.28 L437.14 45.05 L438.23 45.05 L439.32 44.39 L440.41 43.1 L441.5 43.1 L442.59 42.97 L443.68 42.26 L444.76 41.74 L445.85 41.09 L446.94 41.09 L448.03 40.8 L449.12 40.56 L450.21 40.2 L451.3 39.8 L452.39 39.6 L453.48 38.42 L454.57 37.69 L455.65 37.69 L456.74 36.45 L457.83 36.36 L458.92 35.94 L460.01 35.94 L461.1 33.94 L462.19 33.94 L463.28 33.94 L464.37 33.94 L465.46 33.94 L466.55 33.54 L467.63 33.54 L468.72 33.22 L469.81 32.97 L470.9 32.97 L471.99 32.87 L473.08 31.74 L474.17 31.74 L475.26 31.07 L476.35 30.42 L477.44 30.42 L478.52 29.69 L479.61 29.52 L480.7 28.93 L481.79 28.93 L482.88 28.36 L483.97 27.89 L485.06 27.05 L486.15 27.05 L487.24 26.98 L488.33 26.98 L489.42 26.46 L490.5 26.46 L491.59 26.39 L492.68 26.21 L493.77 25.9 L494.86 25.9 L495.95 25.9 L497.04 25.9 L498.13 25.26 L499.22 25.26 L500.31 24.88 L501.39 23.92 L502.48 23.92 L503.57 23.26 L504.66 22.86 L505.75 22.36 L506.84 22.36 L507.93 22.36 L509.02 22.36 L510.11 22.36 L511.2 22.36 L512.28 22.33 L513.37 21.36 L514.46 21.27 L515.55 21.27 L516.64 21.16 L517.73 21.16 L518.82 19.45 L519.91 19.45 L521 19.45 L522.09 19.45 L523.18 19.45 L524.26 19.29 L525.35 19.29 L526.44 19.29 L527.53 19.27 L528.62 18.1 L529.71 18.1 L530.8 18.1 L531.89 18.1 L532.98 18.1 L534.07 18.07 L535.15 17.88 L536.24 17.88 L537.33 17.38 L538.42 16.9 L539.51 16.9 L540.6 15.8" stroke="#ff6a6a" stroke-width="0.7" fill="none" stroke-linejoin="round"/>
<path d="M302.1 221.1 L303.19 219.06 L304.28 217.17 L305.37 215.18 L306.46 213.21 L307.55 211.36 L308.63 209.88 L309.72 207.87 L310.81 205.96 L311.9 204.12 L312.99 202.08 L314.08 200.23 L315.17 198.5 L316.26 196.66 L317.35 194.66 L318.44 192.81 L319.52 192.17 L320.61 188.92 L321.7 188.22 L322.79 185.94 L323.88 185.12 L324.97 182.98 L326.06 181.52 L327.15 178.81 L328.24 177.03 L329.33 175.43 L330.42 173.47 L331.5 171.16 L332.59 169.53 L333.68 167.25 L334.77 165.16 L335.86 162.43 L336.95 160.68 L338.04 159.21 L339.13 156.98 L340.22 155.48 L341.31 153.74 L342.39 153.12 L343.48 151.4 L344.57 149.45 L345.66 149.09 L346.75 147.59 L347.84 145.83 L348.93 144.9 L350.02 143.51 L351.11 142.62 L352.2 141.72 L353.28 140.15 L354.37 139.76 L355.46 139.15 L356.55 138.03 L357.64 137.1 L358.73 136.02 L359.82 134.82 L360.91 133.48 L362 133.48 L363.09 132.16 L364.18 131.71 L365.26 129.84 L366.35 128.66 L367.44 128.13 L368.53 127.43 L369.62 126.69 L370.71 126.15 L371.8 124.62 L372.89 123.48 L373.98 123.48 L375.07 122.27 L376.15 122.13 L377.24 121.83 L378.33 120.28 L379.42 119.43 L380.51 118.81 L381.6 118.32 L382.69 116.96 L383.78 116.96 L384.87 116.18 L385.96 115.61 L387.05 115.61 L388.13 115.48 L389.22 114.9 L390.31 113.84 L391.4 113.02 L392.49 113.02 L393.58 112.44 L394.67 111.08 L395.76 111.08 L396.85 110.71 L397.94 110.5 L399.02 110.09 L400.11 110.09 L401.2 109.85 L402.29 109.85 L403.38 109.06 L404.47 109.06 L405.56 108.53 L406.65 108.53 L407.74 107.74 L408.83 107.74 L409.92 106.83 L411 106.34 L412.09 106.29 L413.18 105.36 L414.27 105.36 L415.36 105.09 L416.45 104.9 L417.54 104.06 L418.63 104.06 L419.72 104.06 L420.81 103.98 L421.89 103.33 L422.98 103.15 L424.07 102.59 L425.16 102.43 L426.25 102.21 L427.34 101.5 L428.43 100.77 L429.52 100.77 L430.61 99.31 L431.7 99.31 L432.78 99.04 L433.87 98.53 L434.96 98.46 L436.05 98.46 L437.14 97.9 L438.23 97 L439.32 96.87 L440.41 96.28 L441.5 96.28 L442.59 95.79 L443.68 94.76 L444.76 94.08 L445.85 94.08 L446.94 94.08 L448.03 94.08 L449.12 92.78 L450.21 92.78 L451.3 92.78 L452.39 92.4 L453.48 91.28 L454.57 91.28 L455.65 91.28 L456.74 90.87 L457.83 90.31 L458.92 89.44 L460.01 89.17 L461.1 89.17 L462.19 89.17 L463.28 88.14 L464.37 88.14 L465.46 87.07 L466.55 87.07 L467.63 86.94 L468.72 86.94 L469.81 86.94 L470.9 85.99 L471.99 85.99 L473.08 85.99 L474.17 85.99 L475.26 85.99 L476.35 85.99 L477.44 85.99 L478.52 84.7 L479.61 84.7 L480.7 84.57 L481.79 84.04 L482.88 84.04 L483.97 83.98 L485.06 83.98 L486.15 83.25 L487.24 83.09 L488.33 83.09 L489.42 82.21 L490.5 82.21 L491.59 82.14 L492.68 82.14 L493.77 82.14 L494.86 81.83 L495.95 81.01 L497.04 81.01 L498.13 81.01 L499.22 80.85 L500.31 79.06 L501.39 79.06 L502.48 78.68 L503.57 77.5 L504.66 77.5 L505.75 77.5 L506.84 77.34 L507.93 77.28 L509.02 75.66 L510.11 75.66 L511.2 75.66 L512.28 75.66 L513.37 75.58 L514.46 75.23 L515.55 75.15 L516.64 75.15 L517.73 75.15 L518.82 75 L519.91 74.86 L521 74.5 L522.09 73.79 L523.18 73.59 L524.26 73.05 L525.35 73.04 L526.44 71.9 L527.53 71.9 L528.62 71.9 L529.71 71.48 L530.8 71.48 L531.89 71.35 L532.98 70.77 L534.07 70.77 L535.15 70.77 L536.24 70.46 L537.33 70.46 L538.42 70.46 L539.51 70.46 L540.6 70.46" stroke="#34ee78" stroke-width="0.9" fill="none" stroke-linejoin="round"/>
<path d="M302.1 221.1 L303.19 219.5 L304.28 217.96 L305.37 216.39 L306.46 214.65 L307.55 213.21 L308.63 211.59 L309.72 209.77 L310.81 208.11 L311.9 206.79 L312.99 205.26 L314.08 203.75 L315.17 202.32 L316.26 200.09 L317.35 199.44 L318.44 197.39 L319.52 196.34 L320.61 194.39 L321.7 191.99 L322.79 190.2 L323.88 188.5 L324.97 187.1 L326.06 185.6 L327.15 183.89 L328.24 182.21 L329.33 180.02 L330.42 178.3 L331.5 177.24 L332.59 176.25 L333.68 175.01 L334.77 173.11 L335.86 171.92 L336.95 171.16 L338.04 168.51 L339.13 167.59 L340.22 166.25 L341.31 165.03 L342.39 163.64 L343.48 161.59 L344.57 161.03 L345.66 159.4 L346.75 158.09 L347.84 156.59 L348.93 156.13 L350.02 155.49 L351.11 154.79 L352.2 153.46 L353.28 152.6 L354.37 152.38 L355.46 151.21 L356.55 150.74 L357.64 150.59 L358.73 149.6 L359.82 148.12 L360.91 147.01 L362 146.44 L363.09 145.91 L364.18 145.26 L365.26 143.91 L366.35 143.15 L367.44 143.09 L368.53 141.34 L369.62 141.03 L370.71 139.62 L371.8 138.79 L372.89 137.82 L373.98 136.76 L375.07 136.01 L376.15 135.82 L377.24 134.9 L378.33 133.14 L379.42 132.41 L380.51 132.26 L381.6 131.46 L382.69 129.29 L383.78 127.75 L384.87 127.29 L385.96 126.7 L387.05 125.49 L388.13 125.49 L389.22 124.04 L390.31 122.34 L391.4 121.53 L392.49 121.53 L393.58 119.72 L394.67 119.18 L395.76 118.24 L396.85 118.06 L397.94 117.41 L399.02 117.29 L400.11 116.19 L401.2 115.43 L402.29 115.43 L403.38 114.56 L404.47 113.89 L405.56 112.25 L406.65 111.27 L407.74 111.27 L408.83 109.51 L409.92 108.32 L411 108.11 L412.09 107.31 L413.18 106.62 L414.27 106.38 L415.36 105.33 L416.45 104.04 L417.54 103.86 L418.63 102.9 L419.72 102.6 L420.81 102.01 L421.89 101.95 L422.98 101.22 L424.07 100.26 L425.16 100.01 L426.25 100 L427.34 99.94 L428.43 99.58 L429.52 98.67 L430.61 98.15 L431.7 98.15 L432.78 97.37 L433.87 96.88 L434.96 96.47 L436.05 96.38 L437.14 94.81 L438.23 94.81 L439.32 94.81 L440.41 94.63 L441.5 93.48 L442.59 93.04 L443.68 92.65 L444.76 92.15 L445.85 91.67 L446.94 91.3 L448.03 91.3 L449.12 90.46 L450.21 90.46 L451.3 90.46 L452.39 89.58 L453.48 89.58 L454.57 89.58 L455.65 88.21 L456.74 88.04 L457.83 88.01 L458.92 87.67 L460.01 87.03 L461.1 86.56 L462.19 86.18 L463.28 86.03 L464.37 85.18 L465.46 85.18 L466.55 85.18 L467.63 84.86 L468.72 83.96 L469.81 83.96 L470.9 83.96 L471.99 82.11 L473.08 82.09 L474.17 82.04 L475.26 81.63 L476.35 80.83 L477.44 80.11 L478.52 80.11 L479.61 79.73 L480.7 79.73 L481.79 79 L482.88 79 L483.97 79 L485.06 77.86 L486.15 77.49 L487.24 76.76 L488.33 76.76 L489.42 75.67 L490.5 75.67 L491.59 74.86 L492.68 74.86 L493.77 74.17 L494.86 74.17 L495.95 74.01 L497.04 73.33 L498.13 73.33 L499.22 73.04 L500.31 71.31 L501.39 71.31 L502.48 71.11 L503.57 70.13 L504.66 69.25 L505.75 69.25 L506.84 69.13 L507.93 69.13 L509.02 68.71 L510.11 67.85 L511.2 67.84 L512.28 67.7 L513.37 67.24 L514.46 67.1 L515.55 66.84 L516.64 66.81 L517.73 66.81 L518.82 65.96 L519.91 65.96 L521 65.18 L522.09 64.42 L523.18 64.35 L524.26 63.72 L525.35 63.72 L526.44 63.72 L527.53 63.72 L528.62 63.72 L529.71 63.72 L530.8 63.68 L531.89 62.66 L532.98 62.54 L534.07 62.06 L535.15 61.78 L536.24 61.61 L537.33 61.61 L538.42 61.37 L539.51 60.75 L540.6 60.26" stroke="#28e8fc" stroke-width="1.0" fill="none" stroke-linejoin="round"/>
<path d="M302.1 221.1 L303.19 219.63 L304.28 218.18 L305.37 216.69 L306.46 215.25 L307.55 213.58 L308.63 212.27 L309.72 210.93 L310.81 209.01 L311.9 207.64 L312.99 206.03 L314.08 204.75 L315.17 203.03 L316.26 201.73 L317.35 200.38 L318.44 198.35 L319.52 196.59 L320.61 194.79 L321.7 192.69 L322.79 191.89 L323.88 189.29 L324.97 188.17 L326.06 186.43 L327.15 184.63 L328.24 183.3 L329.33 182.15 L330.42 180.19 L331.5 179.18 L332.59 177.51 L333.68 176.15 L334.77 175.55 L335.86 174.64 L336.95 173 L338.04 171.55 L339.13 170.57 L340.22 170.01 L341.31 169.08 L342.39 167.67 L343.48 166.57 L344.57 164.88 L345.66 164.02 L346.75 162.53 L347.84 161.75 L348.93 159.93 L350.02 159.47 L351.11 158.17 L352.2 157.48 L353.28 156.25 L354.37 155.26 L355.46 154.68 L356.55 153.81 L357.64 153.81 L358.73 152.86 L359.82 151.76 L360.91 151.47 L362 150.74 L363.09 149.89 L364.18 149.13 L365.26 148 L366.35 146.63 L367.44 146.15 L368.53 145.6 L369.62 145.14 L370.71 144.5 L371.8 142.32 L372.89 142.32 L373.98 141.55 L375.07 140.88 L376.15 139.68 L377.24 138.95 L378.33 137.75 L379.42 136.21 L380.51 136.04 L381.6 134.51 L382.69 133.63 L383.78 132.2 L384.87 131.62 L385.96 130.07 L387.05 129.5 L388.13 128.72 L389.22 127.44 L390.31 126.27 L391.4 125.32 L392.49 124.02 L393.58 122.49 L394.67 122.43 L395.76 120.91 L396.85 120.01 L397.94 119.31 L399.02 118.38 L400.11 116.84 L401.2 115.82 L402.29 115.16 L403.38 114.15 L404.47 113.61 L405.56 113.61 L406.65 112.62 L407.74 112.08 L408.83 111.07 L409.92 111.07 L411 111.07 L412.09 110.02 L413.18 109.58 L414.27 108.82 L415.36 107.98 L416.45 107.43 L417.54 106.67 L418.63 105.99 L419.72 105.99 L420.81 105.04 L421.89 105.04 L422.98 103.74 L424.07 103.63 L425.16 103.63 L426.25 102.75 L427.34 102.75 L428.43 102.13 L429.52 101.59 L430.61 101.35 L431.7 101.09 L432.78 100.29 L433.87 99.91 L434.96 99.29 L436.05 98.82 L437.14 98.46 L438.23 96.46 L439.32 96.08 L440.41 96.08 L441.5 95.17 L442.59 94.72 L443.68 94.72 L444.76 94.05 L445.85 93.23 L446.94 92.07 L448.03 92.07 L449.12 91.8 L450.21 91.8 L451.3 91.45 L452.39 91.45 L453.48 91.16 L454.57 90.68 L455.65 90.68 L456.74 89.77 L457.83 88.73 L458.92 88.02 L460.01 87.67 L461.1 87.67 L462.19 87.14 L463.28 86.74 L464.37 85.5 L465.46 85.5 L466.55 85.25 L467.63 84.91 L468.72 83.72 L469.81 83.25 L470.9 83.25 L471.99 82.96 L473.08 82.37 L474.17 81.41 L475.26 81.41 L476.35 81.29 L477.44 80.94 L478.52 80.63 L479.61 80.05 L480.7 79.97 L481.79 79.94 L482.88 79.19 L483.97 78.58 L485.06 78.17 L486.15 77.46 L487.24 77.28 L488.33 76.04 L489.42 75.67 L490.5 75.26 L491.59 74.6 L492.68 74.6 L493.77 74.18 L494.86 73.72 L495.95 73.08 L497.04 73.03 L498.13 72.31 L499.22 71.38 L500.31 71.21 L501.39 71.21 L502.48 71.21 L503.57 70.49 L504.66 70.05 L505.75 70.05 L506.84 69.89 L507.93 69.64 L509.02 68.96 L510.11 67.93 L511.2 67.57 L512.28 67.57 L513.37 67.43 L514.46 67.22 L515.55 66.75 L516.64 65.58 L517.73 64.95 L518.82 64.64 L519.91 63.7 L521 63.62 L522.09 62.63 L523.18 62.63 L524.26 61.82 L525.35 61.78 L526.44 61.24 L527.53 60.75 L528.62 60.75 L529.71 60.67 L530.8 60.11 L531.89 59.89 L532.98 59.37 L534.07 59.34 L535.15 59.02 L536.24 58.03 L537.33 57.35 L538.42 57.24 L539.51 55.93 L540.6 55.6" stroke="#ff6cff" stroke-width="1.0" fill="none" stroke-linejoin="round"/>
<path d="M302.1 7.3 V221.1 H540.6 M302.1 221.1 v-2 M302.1 221.1 h2 M325.95 221.1 v-2 M302.1 199.72 h2 M349.8 221.1 v-2 M302.1 178.34 h2 M373.65 221.1 v-2 M302.1 156.96 h2 M397.5 221.1 v-2 M302.1 135.58 h2 M421.35 221.1 v-2 M302.1 114.2 h2 M445.2 221.1 v-2 M302.1 92.82 h2 M469.05 221.1 v-2 M302.1 71.44 h2 M492.9 221.1 v-2 M302.1 50.06 h2 M516.75 221.1 v-2 M302.1 28.68 h2 M540.6 221.1 v-2 M302.1 7.3 h2" stroke="#5a5a5a" stroke-width="0.55" fill="none"/>
<g font-family='"Liberation Sans", Arial, sans-serif' font-size="5.2" fill="#2c2c2c" stroke="#2c2c2c" stroke-width="0.08">
<text x="302.1" y="228.3" text-anchor="middle">0</text>
<text x="325.95" y="228.3" text-anchor="middle">1</text>
<text x="349.8" y="228.3" text-anchor="middle">2</text>
<text x="373.65" y="228.3" text-anchor="middle">3</text>
<text x="397.5" y="228.3" text-anchor="middle">4</text>
<text x="421.35" y="228.3" text-anchor="middle">5</text>
<text x="445.2" y="228.3" text-anchor="middle">6</text>
<text x="469.05" y="228.3" text-anchor="middle">7</text>
<text x="492.9" y="228.3" text-anchor="middle">8</text>
<text x="516.75" y="228.3" text-anchor="middle">9</text>
<text x="540.6" y="228.3" text-anchor="middle">10</text>
<text x="299.8" y="222.97" text-anchor="end">0</text>
<text x="299.8" y="201.59" text-anchor="end">0.1</text>
<text x="299.8" y="180.21" text-anchor="end">0.2</text>
<text x="299.8" y="158.83" text-anchor="end">0.3</text>
<text x="299.8" y="137.45" text-anchor="end">0.4</text>
<text x="299.8" y="116.07" text-anchor="end">0.5</text>
<text x="299.8" y="94.69" text-anchor="end">0.6</text>
<text x="299.8" y="73.31" text-anchor="end">0.7</text>
<text x="299.8" y="51.93" text-anchor="end">0.8</text>
<text x="299.8" y="30.55" text-anchor="end">0.9</text>
<text x="299.8" y="9.17" text-anchor="end">1</text>
</g>
<g font-family='"Liberation Sans", Arial, sans-serif' font-size="5.6" fill="#2c2c2c" stroke="#2c2c2c" stroke-width="0.1">
<text x="421.35" y="235.8" text-anchor="middle">UE Average throughput [Mb/s]</text>
<text transform="translate(288.2 114.2) rotate(-90)" text-anchor="middle">CDF</text>
</g>
<rect x="304.3" y="9.6" width="199.3" height="46.4" fill="#fff" stroke="#666" stroke-width="0.6"/>
<g font-family='"Liberation Sans", Arial, sans-serif' font-size="4.56" fill="#222" stroke="#222" stroke-width="0.05">
<path d="M306.9 14.1 H320.7" stroke="#ff6a6a" stroke-width="0.7" stroke-dasharray="2.6 1.7"/>
<text x="322.8" y="15.74">BS type RSU (w.o. Scheme)</text>
<path d="M306.9 20.7 H320.7" stroke="#7474ff" stroke-width="0.9" stroke-dasharray="2.6 1.7"/>
<text x="322.8" y="22.34">UE type RSU (w.o. Scheme)</text>
<path d="M306.9 27.1 H320.7" stroke="#38e87c" stroke-width="1.0" stroke-dasharray="2.6 1.7"/>
<text x="322.8" y="28.74">BS type RSU(w.o. Scheme) &amp; UE type RSU(w.o. Scheme)</text>
<path d="M306.9 33.4 H320.7" stroke="#ff6a6a" stroke-width="0.7"/>
<text x="322.8" y="35.04">BS type RSU (w. Dynamic ICIC + CS-CoMP)</text>
<path d="M306.9 39.6 H320.7" stroke="#34ee78" stroke-width="0.9"/>
<text x="322.8" y="41.24">BS type RSU (w. Dynamic ICIC + CS-CoMP) &amp; UE type RSU</text>
<path d="M306.9 45.9 H320.7" stroke="#28e8fc" stroke-width="1.0"/>
<text x="322.8" y="47.54">BS type RSU (w.o. Scheme) &amp; UE type RSU (w. Cell Range Expansion)</text>
<path d="M306.9 52 H320.7" stroke="#ff6cff" stroke-width="1.0"/>
<text x="322.8" y="53.64">BS type RSU (w. Dynamic ICIC + CS-CoMP) &amp; UE type RSU (w. Cell Range Expansion)</text>
</g>
<rect x="322.2" y="89.1" width="103" height="49.7" fill="none" stroke="#ff0000" stroke-width="2" stroke-dasharray="2 2"/>
<path d="M322.2 138.8 L380.5 220.5" stroke="#ff2020" stroke-width="0.7" stroke-dasharray="1.4 1.2" fill="none"/>
<path d="M425.2 89.1 L543.5 130" stroke="#ff2020" stroke-width="0.7" stroke-dasharray="1.4 1.2" fill="none"/>
<rect x="379.2" y="128.6" width="165.7" height="93.2" fill="#fff"/>
<clipPath id="c379"><rect x="380.45" y="129.85" width="163.2" height="90.7"/></clipPath>
<path d="M387.7 128.6 V221.8 M423.7 128.6 V221.8 M460.2 128.6 V221.8 M496.6 128.6 V221.8 M533.1 128.6 V221.8 M379.2 137.5 H544.9 M379.2 173.5 H544.9 M379.2 209.5 H544.9" stroke="#d8d8d8" stroke-width="0.65" fill="none"/>
<g clip-path="url(#c379)" fill="none" stroke-linejoin="round">
<path d="M384.2 218.2 L385.03 215.92 L385.85 213.13 L386.68 210.9 L387.51 208.5 L388.34 205.8 L389.16 203.71 L389.99 201.4 L390.82 199.04 L391.64 196.58 L392.47 194.24 L393.3 192.17 L394.13 190.3 L394.95 188.05 L395.78 185.88 L396.61 184.08 L397.43 182.07 L398.26 180.08 L399.09 178.29 L399.92 176.41 L400.74 174.82 L401.57 173.59 L402.4 171.91 L403.22 170.4 L404.05 169 L404.88 167.25 L405.71 165.83 L406.53 164.36 L407.36 163.16 L408.19 161.61 L409.01 159.61 L409.84 158.26 L410.67 157.05 L411.49 156 L412.32 154.63 L413.15 153.02 L413.98 152.01 L414.8 150.94 L415.63 149.26 L416.46 147.8 L417.28 146.34 L418.11 145.17 L418.94 144.59 L419.77 143.28 L420.59 141.69 L421.42 140.92 L422.25 139.79 L423.07 139.09 L423.9 138.35 L424.73 137.11 L425.56 136.5 L426.38 135.99 L427.21 135.24 L428.04 133.86 L428.86 132.64 L429.69 132.15 L430.52 131.22 L431.35 130.28 L432.17 129.65 L433 129" stroke="#ff3030" stroke-width="1.3" stroke-dasharray="6.5 3.8"/>
<path d="M390.4 218.6 L391.53 215.79 L392.66 213.08 L393.79 211.05 L394.92 208.27 L396.04 205.49 L397.17 202.85 L398.3 200.33 L399.43 198.06 L400.56 195.81 L401.69 193.45 L402.82 190.63 L403.95 187.69 L405.07 185.36 L406.2 182.45 L407.33 179.31 L408.46 177.09 L409.59 174.93 L410.72 172.03 L411.85 169.25 L412.98 167.15 L414.11 165.38 L415.23 163.97 L416.36 162.39 L417.49 161.11 L418.62 159.92 L419.75 158.72 L420.88 157.52 L422.01 156.05 L423.14 154.94 L424.26 154.17 L425.39 152.91 L426.52 151.92 L427.65 151.11 L428.78 149.81 L429.91 148.76 L431.04 147.81 L432.17 146.73 L433.29 146.08 L434.42 145.56 L435.55 144.52 L436.68 143.55 L437.81 142.83 L438.94 142.23 L440.07 141.77 L441.2 140.77 L442.33 139.78 L443.45 139.07 L444.58 138.28 L445.71 137.69 L446.84 136.59 L447.97 135.11 L449.1 134.37 L450.23 133.59 L451.36 133.06 L452.48 132.37 L453.61 131.2 L454.74 130.55 L455.87 129.85 L457 129" stroke="#ff3030" stroke-width="1.3"/>
<path d="M408.9 218.6 L410.49 215.77 L412.09 212.86 L413.68 210.31 L415.28 207.91 L416.87 204.85 L418.47 202.77 L420.06 200.83 L421.66 198.79 L423.25 197.64 L424.85 195.98 L426.44 193.65 L428.04 191.65 L429.63 190.24 L431.23 189.08 L432.82 187.44 L434.42 185.94 L436.01 184.75 L437.61 183.27 L439.2 181.97 L440.8 181.09 L442.39 179.62 L443.99 177.83 L445.58 176.85 L447.18 175.72 L448.77 173.75 L450.37 171.79 L451.96 170.16 L453.56 168.77 L455.15 167.24 L456.75 165.8 L458.34 164.45 L459.94 162.66 L461.53 160.96 L463.13 159.42 L464.72 157.93 L466.32 156.17 L467.91 154.35 L469.51 152.76 L471.1 151.01 L472.7 149.44 L474.29 147.95 L475.89 146.33 L477.48 145.21 L479.08 144.56 L480.67 143.78 L482.27 142.25 L483.86 141.13 L485.46 140.42 L487.05 139.4 L488.65 138.5 L490.24 137.55 L491.84 136.48 L493.43 135.36 L495.03 134.3 L496.62 132.95 L498.22 131.54 L499.81 130.5 L501.41 129.53 L503 129" stroke="#3c3cff" stroke-width="1.3" stroke-dasharray="6.5 3.8"/>
<path d="M414 218.6 L416.18 215.08 L418.35 212.04 L420.53 208.99 L422.71 205.85 L424.88 202.63 L427.06 199.37 L429.23 196.38 L431.41 194.36 L433.59 192.39 L435.76 190.91 L437.94 190.07 L440.12 188.53 L442.29 186.46 L444.47 184.81 L446.64 182.83 L448.82 180.7 L451 178.4 L453.17 176.46 L455.35 175.09 L457.53 173.53 L459.7 172.35 L461.88 170.96 L464.05 169.56 L466.23 168.03 L468.41 167.21 L470.58 166.95 L472.76 165.85 L474.94 164.48 L477.11 163.39 L479.29 162.5 L481.46 161.37 L483.64 160.35 L485.82 158.92 L487.99 157.1 L490.17 156.06 L492.35 155.3 L494.52 153.92 L496.7 152.49 L498.87 151.24 L501.05 149.77 L503.23 148.5 L505.4 147.11 L507.58 146.05 L509.76 145.28 L511.93 144.22 L514.11 142.87 L516.28 141.54 L518.46 140.38 L520.64 139.25 L522.81 138.73 L524.99 138.53 L527.17 137.27 L529.34 135.81 L531.52 135.28 L533.69 134.39 L535.87 133.52 L538.05 132.8 L540.22 131.9 L542.4 131.3" stroke="#10ee40" stroke-width="1.5" stroke-dasharray="6.5 3.8"/>
<path d="M425.3 218.6 L427.28 216.67 L429.27 215.15 L431.25 213.61 L433.24 211.57 L435.22 209.57 L437.21 207.82 L439.19 205.81 L441.18 203.69 L443.16 201.99 L445.15 200.02 L447.13 198.15 L449.12 196.06 L451.1 194.16 L453.09 192.76 L455.07 191.34 L457.06 189.7 L459.04 188.03 L461.03 186.58 L463.01 184.9 L464.99 183.54 L466.98 182.49 L468.96 181.79 L470.95 180.84 L472.93 179.79 L474.92 179.11 L476.9 178.28 L478.89 177.2 L480.87 176.13 L482.86 174.64 L484.84 173.16 L486.83 172.3 L488.81 171.48 L490.8 170.34 L492.78 168.84 L494.77 167.68 L496.75 166.76 L498.74 166.35 L500.72 165.85 L502.71 165.32 L504.69 165.32 L506.67 165.05 L508.66 164.03 L510.64 163.26 L512.63 162.77 L514.61 161.9 L516.6 161.38 L518.58 160.45 L520.57 158.67 L522.55 157.12 L524.54 156.23 L526.52 155.38 L528.51 154.19 L530.49 153.03 L532.48 152.34 L534.46 151.82 L536.45 151.39 L538.43 150.76 L540.42 150.23 L542.4 149.8" stroke="#10ee40" stroke-width="1.5"/>
<path d="M449 218.6 L450.58 217.39 L452.17 217.03 L453.75 216.07 L455.33 214.74 L456.92 213.87 L458.5 212.53 L460.08 210.95 L461.66 209.36 L463.25 208.07 L464.83 206.82 L466.41 205.24 L468 203.43 L469.58 202.21 L471.16 201.32 L472.75 199.58 L474.33 198.26 L475.91 196.61 L477.49 195.06 L479.08 193.91 L480.66 193.13 L482.24 191.72 L483.83 189.78 L485.41 188.85 L486.99 187.94 L488.58 186.96 L490.16 185.63 L491.74 184.18 L493.33 183.23 L494.91 181.89 L496.49 180.29 L498.07 179.43 L499.66 177.85 L501.24 176.1 L502.82 175.21 L504.41 174.14 L505.99 172.44 L507.57 171.09 L509.16 170.38 L510.74 169.07 L512.32 167.62 L513.91 166.45 L515.49 164.98 L517.07 164.06 L518.65 163.15 L520.24 161.88 L521.82 160.5 L523.4 159.17 L524.99 158.19 L526.57 157.32 L528.15 156.4 L529.74 155.43 L531.32 154.96 L532.9 154.12 L534.48 153.12 L536.07 152.61 L537.65 152 L539.23 151.33 L540.82 150.82 L542.4 150.8" stroke="#00e8ff" stroke-width="1.4"/>
<path d="M459.1 219.1 L460.51 217.21 L461.92 215.98 L463.34 214.35 L464.75 212.8 L466.16 211.74 L467.57 210.06 L468.98 208.78 L470.39 207.88 L471.81 207.17 L473.22 206.41 L474.63 205.11 L476.04 203.67 L477.45 202.31 L478.87 201.36 L480.28 200.27 L481.69 199.12 L483.1 198.18 L484.51 197.13 L485.93 196.21 L487.34 195.02 L488.75 193.79 L490.16 192.59 L491.57 191.55 L492.98 190.59 L494.4 189.59 L495.81 188.61 L497.22 187.17 L498.63 185.69 L500.04 184.97 L501.46 184.49 L502.87 183.31 L504.28 182.39 L505.69 181.49 L507.1 180.1 L508.52 178.91 L509.93 177.37 L511.34 175.71 L512.75 174.65 L514.16 173.62 L515.57 172.71 L516.99 172.01 L518.4 170.71 L519.81 169.77 L521.22 169.52 L522.63 168.48 L524.05 167.54 L525.46 166.9 L526.87 165.76 L528.28 165.3 L529.69 164.93 L531.11 163.75 L532.52 162.55 L533.93 161.93 L535.34 161.29 L536.75 160.09 L538.16 159.06 L539.58 158.11 L540.99 156.91 L542.4 156" stroke="#ff50ff" stroke-width="1.2"/>
</g>
<rect x="380.45" y="129.85" width="163.2" height="90.7" fill="none" stroke="#ff0000" stroke-width="2.5"/>
<path d="M438.7 122.5 L460.3 170.8" stroke="#3c3cff" stroke-width="0.75" fill="none"/>
<path d="M460.3 170.8 L460.52 165.66 L456.32 167.54 Z" fill="#1010ff"/>
<path d="M468.6 122.5 L488 170.8" stroke="#3c3cff" stroke-width="0.75" fill="none"/>
<path d="M488 170.8 L488.42 165.67 L484.15 167.39 Z" fill="#1010ff"/>
<path d="M498.7 122.5 L504.2 171.8" stroke="#3c3cff" stroke-width="0.75" fill="none"/>
<path d="M504.2 171.8 L505.98 166.97 L501.4 167.48 Z" fill="#1010ff"/>
<path d="M528.4 122 L514.8 171.8" stroke="#3c3cff" stroke-width="0.75" fill="none"/>
<path d="M514.8 171.8 L518.23 167.97 L513.79 166.76 Z" fill="#1010ff"/>
<circle cx="460.8" cy="172.4" r="1.9" fill="#0a2a8c"/>
<circle cx="488.5" cy="172.4" r="1.9" fill="#0a2a8c"/>
<circle cx="504.4" cy="173.5" r="1.9" fill="#0a2a8c"/>
<circle cx="514.2" cy="173.5" r="1.9" fill="#0a2a8c"/>
<rect x="425.3" y="108.2" width="28" height="14.6" fill="#fff" stroke="#3535ff" stroke-width="1.1"/>
<text x="439.3" y="118.35" text-anchor="middle" font-family='"Liberation Sans", Arial, sans-serif' font-size="7.9" fill="#1a1a1a" stroke="#1a1a1a" stroke-width="0.15">3.02</text>
<rect x="454.6" y="108.2" width="27.6" height="14.6" fill="#fff" stroke="#3535ff" stroke-width="1.1"/>
<text x="468.4" y="118.35" text-anchor="middle" font-family='"Liberation Sans", Arial, sans-serif' font-size="7.9" fill="#1a1a1a" stroke="#1a1a1a" stroke-width="0.15">3.768</text>
<rect x="483.8" y="108.2" width="28.8" height="14.6" fill="#fff" stroke="#3535ff" stroke-width="1.1"/>
<text x="498.2" y="118.35" text-anchor="middle" font-family='"Liberation Sans", Arial, sans-serif' font-size="7.9" fill="#1a1a1a" stroke="#1a1a1a" stroke-width="0.15">4.246</text>
<rect x="514.3" y="107.4" width="27.5" height="14.7" fill="#fff" stroke="#3535ff" stroke-width="1.1"/>
<text x="528.05" y="117.6" text-anchor="middle" font-family='"Liberation Sans", Arial, sans-serif' font-size="7.9" fill="#1a1a1a" stroke="#1a1a1a" stroke-width="0.15">4.537</text>
<text x="415.5" y="251.9" text-anchor="middle" font-family='"Liberation Serif", "DejaVu Serif", serif' font-size="13" fill="#111">(<tspan font-weight="bold">b</tspan>)</text>
<path d="M186.2 472.2 V258 M162 450.78 H404 M210.4 472.2 V258 M162 429.36 H404 M234.6 472.2 V258 M162 407.94 H404 M258.8 472.2 V258 M162 386.52 H404 M283 472.2 V258 M162 365.1 H404 M307.2 472.2 V258 M162 343.68 H404 M331.4 472.2 V258 M162 322.26 H404 M355.6 472.2 V258 M162 300.84 H404 M379.8 472.2 V258 M162 279.42 H404 M404 472.2 V258 M162 258 H404" stroke="#e9e9e9" stroke-width="0.6" fill="none"/>
<path d="M162 472.2 L163.11 469.86 L164.21 467.56 L165.32 465.28 L166.42 462.95 L167.53 460.73 L168.63 458.4 L169.74 456.19 L170.84 453.95 L171.95 451.81 L173.05 449.71 L174.16 447.41 L175.26 445.28 L176.37 443.83 L177.47 442.03 L178.58 440.44 L179.68 438.22 L180.79 436.56 L181.89 434.13 L183 432.1 L184.1 428.83 L185.21 424.99 L186.31 420.22 L187.42 417.31 L188.52 415.34 L189.63 413.53 L190.73 411.54 L191.84 410.29 L192.94 408.49 L194.05 406.68 L195.15 406.13 L196.26 404.83 L197.36 403.93 L198.47 402.61 L199.57 400.92 L200.68 399.76 L201.78 398.52 L202.89 397.24 L203.99 396.35 L205.1 395.34 L206.2 393.44 L207.31 392.53 L208.41 391.2 L209.52 390.41 L210.62 389.16 L211.73 388.45 L212.83 387.28 L213.94 386.31 L215.04 385.19 L216.15 383.94 L217.25 383.16 L218.36 383.09 L219.46 381.43 L220.57 380.46 L221.67 379.18 L222.78 378.28 L223.88 377.44 L224.99 376.42 L226.09 375.28 L227.2 374.38 L228.3 372.9 L229.41 372.31 L230.51 371.68 L231.62 370.7 L232.72 369.68 L233.83 369.59 L234.93 368.88 L236.04 368.27 L237.14 367.83 L238.25 367.03 L239.35 366.47 L240.46 365.5 L241.56 364.91 L242.67 364.22 L243.77 364.01 L244.88 362.93 L245.98 362.81 L247.09 362.01 L248.19 361.1 L249.3 360.65 L250.4 360.25 L251.51 359.55 L252.61 359.35 L253.72 359.15 L254.82 358.52 L255.93 357.91 L257.03 356.72 L258.14 355.02 L259.24 352.55 L260.35 351.05 L261.45 350.13 L262.56 348.11 L263.66 347.67 L264.77 347.66 L265.87 346.33 L266.98 345.94 L268.08 345.72 L269.19 344.6 L270.29 343.84 L271.4 343.06 L272.5 342.21 L273.61 341.99 L274.71 341.08 L275.82 340.2 L276.92 339.54 L278.03 338.91 L279.13 338.31 L280.24 337.41 L281.34 337.41 L282.45 336.93 L283.55 335.51 L284.66 335.27 L285.76 334.52 L286.87 334.19 L287.97 333.82 L289.08 333.33 L290.18 332.68 L291.29 332.33 L292.39 331.72 L293.5 331.23 L294.6 330.43 L295.71 329.81 L296.81 328.97 L297.92 328.92 L299.02 328.12 L300.13 327.22 L301.23 326.73 L302.34 326.73 L303.44 325.64 L304.55 325.18 L305.65 324.74 L306.76 324.15 L307.86 323.64 L308.97 322.53 L310.07 321.94 L311.18 321.33 L312.28 320.36 L313.39 319.65 L314.49 319.34 L315.6 318.62 L316.7 317.86 L317.81 316.66 L318.91 316.1 L320.02 315.03 L321.12 314.46 L322.23 313.89 L323.33 313.42 L324.44 312.48 L325.54 311.17 L326.65 311.17 L327.75 310.63 L328.86 309.85 L329.96 308.83 L331.07 308.6 L332.17 308.33 L333.28 307.68 L334.38 307.05 L335.49 306.48 L336.59 305.75 L337.7 304.88 L338.8 304.57 L339.91 304.13 L341.01 303.67 L342.12 303.25 L343.22 302.29 L344.33 301.5 L345.43 301.02 L346.54 300.74 L347.64 300.03 L348.75 299.74 L349.85 299.21 L350.96 298.71 L352.06 298.12 L353.17 297.64 L354.27 296.83 L355.38 296.55 L356.48 296.03 L357.59 295.21 L358.69 294.76 L359.8 294.11 L360.9 294.07 L362.01 293.04 L363.11 292.87 L364.22 292.62 L365.32 291.89 L366.43 291.66 L367.53 291.11 L368.64 290.49 L369.74 289.67 L370.85 289.67 L371.95 288.91 L373.06 288.59 L374.16 287.67 L375.27 287.56 L376.37 286.99 L377.48 286.34 L378.58 286.34 L379.69 285.88 L380.79 285.73 L381.9 285.14 L383 284.28 L384.11 283.82 L385.21 283.1 L386.32 282.73 L387.42 282.23 L388.53 281.53 L389.63 281.18 L390.74 280.8 L391.84 280.48 L392.95 279.68 L394.05 279.1 L395.16 279.09 L396.26 278.48 L397.37 278.48 L398.47 277.9 L399.58 277.21 L400.68 277.19 L401.79 276.39 L402.89 276.25 L404 275.7" stroke="#ff6a6a" stroke-width="0.6" fill="none" stroke-linejoin="round"/>
<path d="M162 472.2 L163.11 470.69 L164.21 469.12 L165.32 467.51 L166.42 465.82 L167.53 464.11 L168.63 462.34 L169.74 460.53 L170.84 458.67 L171.95 456.75 L173.05 454.79 L174.16 452.85 L175.26 450.76 L176.37 448.52 L177.47 446.23 L178.58 443.88 L179.68 441.42 L180.79 439.01 L181.89 436.56 L183 434.26 L184.1 431.79 L185.21 429.48 L186.31 427.4 L187.42 425.33 L188.52 423.3 L189.63 421.3 L190.73 419.26 L191.84 417.3 L192.94 415.37 L194.05 413.48 L195.15 411.68 L196.26 409.9 L197.36 408.2 L198.47 406.58 L199.57 405.09 L200.68 403.6 L201.78 402.21 L202.89 400.93 L203.99 399.58 L205.1 398.22 L206.2 396.99 L207.31 395.68 L208.41 394.53 L209.52 393.3 L210.62 392.12 L211.73 390.95 L212.83 389.76 L213.94 388.56 L215.04 387.38 L216.15 386.23 L217.25 385.04 L218.36 383.87 L219.46 382.76 L220.57 381.66 L221.67 380.57 L222.78 379.5 L223.88 378.46 L224.99 377.42 L226.09 376.33 L227.2 375.43 L228.3 374.53 L229.41 373.61 L230.51 372.74 L231.62 371.87 L232.72 371.07 L233.83 370.4 L234.93 369.57 L236.04 368.98 L237.14 368.26 L238.25 367.64 L239.35 367.03 L240.46 366.41 L241.56 365.67 L242.67 365.1 L243.77 364.64 L244.88 364.11 L245.98 363.48 L247.09 363.06 L248.19 362.49 L249.3 361.94 L250.4 361.49 L251.51 360.98 L252.61 360.54 L253.72 360.13 L254.82 359.62 L255.93 359.18 L257.03 358.62 L258.14 358.19 L259.24 357.63 L260.35 357.15 L261.45 356.66 L262.56 356.12 L263.66 355.66 L264.77 355.19 L265.87 354.68 L266.98 354.27 L268.08 353.89 L269.19 353.35 L270.29 353.02 L271.4 352.53 L272.5 352.07 L273.61 351.63 L274.71 351.19 L275.82 350.71 L276.92 350.25 L278.03 349.83 L279.13 349.31 L280.24 348.94 L281.34 348.54 L282.45 348.05 L283.55 347.73 L284.66 347.37 L285.76 346.93 L286.87 346.56 L287.97 346.21 L289.08 345.79 L290.18 345.55 L291.29 345.15 L292.39 344.84 L293.5 344.5 L294.6 344.24 L295.71 343.93 L296.81 343.62 L297.92 343.29 L299.02 342.95 L300.13 342.62 L301.23 342.44 L302.34 341.98 L303.44 341.65 L304.55 341.3 L305.65 340.98 L306.76 340.57 L307.86 340.28 L308.97 339.8 L310.07 339.53 L311.18 339.14 L312.28 338.79 L313.39 338.4 L314.49 338.12 L315.6 337.68 L316.7 337.35 L317.81 336.98 L318.91 336.7 L320.02 336.38 L321.12 336.12 L322.23 335.73 L323.33 335.33 L324.44 335.08 L325.54 334.75 L326.65 334.42 L327.75 334.05 L328.86 333.83 L329.96 333.38 L331.07 333.1 L332.17 332.77 L333.28 332.47 L334.38 332.07 L335.49 331.83 L336.59 331.46 L337.7 331.17 L338.8 330.9 L339.91 330.53 L341.01 330.18 L342.12 329.9 L343.22 329.59 L344.33 329.26 L345.43 328.97 L346.54 328.67 L347.64 328.31 L348.75 328.04 L349.85 327.68 L350.96 327.36 L352.06 327.03 L353.17 326.73 L354.27 326.47 L355.38 326.13 L356.48 325.88 L357.59 325.51 L358.69 325.24 L359.8 324.87 L360.9 324.66 L362.01 324.34 L363.11 324.09 L364.22 323.75 L365.32 323.46 L366.43 323.24 L367.53 322.85 L368.64 322.64 L369.74 322.44 L370.85 322.16 L371.95 321.92 L373.06 321.66 L374.16 321.32 L375.27 321.1 L376.37 320.7 L377.48 320.46 L378.58 320.1 L379.69 319.7 L380.79 319.46 L381.9 319.13 L383 318.78 L384.11 318.53 L385.21 318.19 L386.32 317.93 L387.42 317.6 L388.53 317.27 L389.63 316.96 L390.74 316.66 L391.84 316.3 L392.95 315.95 L394.05 315.62 L395.16 315.31 L396.26 315.02 L397.37 314.64 L398.47 314.33 L399.58 314.1 L400.68 313.84 L401.79 313.46 L402.89 313.1 L404 312.8" stroke="#7474ff" stroke-width="0.6" fill="none" stroke-linejoin="round"/>
<path d="M162 472.2 L163.11 471.43 L164.21 470.56 L165.32 469.68 L166.42 468.65 L167.53 467.65 L168.63 466.39 L169.74 465.26 L170.84 463.91 L171.95 462.74 L173.05 461.38 L174.16 460.31 L175.26 459.09 L176.37 457.28 L177.47 455.61 L178.58 453.17 L179.68 451.49 L180.79 449.12 L181.89 447.24 L183 445.37 L184.1 443.64 L185.21 441.51 L186.31 439.59 L187.42 438.06 L188.52 436.34 L189.63 434.69 L190.73 433.47 L191.84 431.37 L192.94 429.91 L194.05 428.01 L195.15 425.98 L196.26 425.18 L197.36 423.16 L198.47 421.47 L199.57 419.85 L200.68 418.72 L201.78 417.59 L202.89 415.84 L203.99 414.59 L205.1 413.91 L206.2 412.21 L207.31 411.47 L208.41 410.56 L209.52 409.04 L210.62 407.97 L211.73 407.24 L212.83 405.2 L213.94 404.94 L215.04 403.42 L216.15 402.25 L217.25 400.81 L218.36 400.4 L219.46 398.87 L220.57 398.55 L221.67 397.39 L222.78 396.63 L223.88 395.95 L224.99 394.8 L226.09 393.61 L227.2 392.8 L228.3 392.4 L229.41 392.06 L230.51 391.21 L231.62 390.1 L232.72 389.39 L233.83 388.71 L234.93 388.27 L236.04 387.8 L237.14 386.86 L238.25 386.4 L239.35 385.48 L240.46 385.48 L241.56 384.56 L242.67 383.92 L243.77 383.3 L244.88 382.85 L245.98 382.85 L247.09 382.78 L248.19 382.01 L249.3 381.85 L250.4 381.78 L251.51 380.25 L252.61 379.97 L253.72 379.3 L254.82 378.98 L255.93 378.19 L257.03 377.88 L258.14 377.43 L259.24 376.52 L260.35 376.52 L261.45 375.96 L262.56 375.96 L263.66 374.81 L264.77 374.81 L265.87 374.67 L266.98 374.43 L268.08 373.63 L269.19 372.68 L270.29 372.67 L271.4 372.67 L272.5 372.57 L273.61 370.94 L274.71 370.94 L275.82 370.94 L276.92 370.53 L278.03 370.06 L279.13 369.44 L280.24 369.44 L281.34 369.09 L282.45 368.26 L283.55 368.17 L284.66 367.41 L285.76 367 L286.87 366.36 L287.97 366.36 L289.08 366.08 L290.18 365.48 L291.29 365.09 L292.39 365.09 L293.5 364.73 L294.6 364.13 L295.71 363.9 L296.81 362.85 L297.92 362.85 L299.02 362.38 L300.13 362.35 L301.23 361.93 L302.34 361.59 L303.44 361.02 L304.55 361.02 L305.65 360.22 L306.76 360.22 L307.86 359.68 L308.97 359.5 L310.07 359.28 L311.18 358.39 L312.28 358.15 L313.39 358.06 L314.49 357.81 L315.6 356.99 L316.7 356.95 L317.81 356.09 L318.91 355.96 L320.02 355.19 L321.12 354.94 L322.23 354.26 L323.33 353.27 L324.44 352.94 L325.54 352.94 L326.65 352.84 L327.75 352.84 L328.86 352.09 L329.96 351.57 L331.07 351.57 L332.17 351.34 L333.28 350.64 L334.38 350.52 L335.49 349.99 L336.59 349.33 L337.7 349.3 L338.8 349.02 L339.91 348.51 L341.01 348.51 L342.12 348.37 L343.22 348.28 L344.33 348.21 L345.43 347.26 L346.54 347.26 L347.64 346.54 L348.75 346.23 L349.85 345.44 L350.96 344.77 L352.06 343.05 L353.17 340.96 L354.27 339.02 L355.38 338.76 L356.48 337.33 L357.59 336.67 L358.69 335.95 L359.8 335.09 L360.9 334.32 L362.01 333.74 L363.11 333.1 L364.22 331.95 L365.32 331.93 L366.43 331.34 L367.53 331.2 L368.64 330.09 L369.74 329.99 L370.85 329.36 L371.95 329.03 L373.06 328.35 L374.16 328.06 L375.27 327.7 L376.37 327.32 L377.48 326.63 L378.58 326.09 L379.69 325.44 L380.79 324.72 L381.9 324.21 L383 324.21 L384.11 323.73 L385.21 322.79 L386.32 322.65 L387.42 321.58 L388.53 321.04 L389.63 321.03 L390.74 320.13 L391.84 319.48 L392.95 319.26 L394.05 318.97 L395.16 318.45 L396.26 317.79 L397.37 317.55 L398.47 316.68 L399.58 316.22 L400.68 315.74 L401.79 315.18 L402.89 314.17 L404 313.91" stroke="#22ee66" stroke-width="0.75" fill="none" stroke-linejoin="round"/>
<path d="M162 258 V472.2 H404 M162 472.2 v-2 M162 472.2 h2 M186.2 472.2 v-2 M162 450.78 h2 M210.4 472.2 v-2 M162 429.36 h2 M234.6 472.2 v-2 M162 407.94 h2 M258.8 472.2 v-2 M162 386.52 h2 M283 472.2 v-2 M162 365.1 h2 M307.2 472.2 v-2 M162 343.68 h2 M331.4 472.2 v-2 M162 322.26 h2 M355.6 472.2 v-2 M162 300.84 h2 M379.8 472.2 v-2 M162 279.42 h2 M404 472.2 v-2 M162 258 h2" stroke="#5a5a5a" stroke-width="0.55" fill="none"/>
<g font-family='"Liberation Sans", Arial, sans-serif' font-size="5.2" fill="#2c2c2c" stroke="#2c2c2c" stroke-width="0.08">
<text x="162" y="479.9" text-anchor="middle">0</text>
<text x="186.2" y="479.9" text-anchor="middle">1</text>
<text x="210.4" y="479.9" text-anchor="middle">2</text>
<text x="234.6" y="479.9" text-anchor="middle">3</text>
<text x="258.8" y="479.9" text-anchor="middle">4</text>
<text x="283" y="479.9" text-anchor="middle">5</text>
<text x="307.2" y="479.9" text-anchor="middle">6</text>
<text x="331.4" y="479.9" text-anchor="middle">7</text>
<text x="355.6" y="479.9" text-anchor="middle">8</text>
<text x="379.8" y="479.9" text-anchor="middle">9</text>
<text x="404" y="479.9" text-anchor="middle">10</text>
<text x="159.6" y="474.07" text-anchor="end">0</text>
<text x="159.6" y="452.65" text-anchor="end">0.1</text>
<text x="159.6" y="431.23" text-anchor="end">0.2</text>
<text x="159.6" y="409.81" text-anchor="end">0.3</text>
<text x="159.6" y="388.39" text-anchor="end">0.4</text>
<text x="159.6" y="366.97" text-anchor="end">0.5</text>
<text x="159.6" y="345.55" text-anchor="end">0.6</text>
<text x="159.6" y="324.13" text-anchor="end">0.7</text>
<text x="159.6" y="302.71" text-anchor="end">0.8</text>
<text x="159.6" y="281.29" text-anchor="end">0.9</text>
<text x="159.6" y="259.87" text-anchor="end">1</text>
</g>
<g font-family='"Liberation Sans", Arial, sans-serif' font-size="5.66" fill="#2c2c2c" stroke="#2c2c2c" stroke-width="0.1">
<text x="283" y="487.9" text-anchor="middle">VUE Average throughput [Mb/s]</text>
<text transform="translate(148.2 365.1) rotate(-90)" text-anchor="middle">CDF</text>
</g>
<rect x="165.2" y="261.4" width="235.8" height="21.2" fill="#fff" stroke="#666" stroke-width="0.6"/>
<g font-family='"Liberation Sans", Arial, sans-serif' font-size="4.64" fill="#222" stroke="#222" stroke-width="0.05">
<path d="M167.5 265.9 H181.8" stroke="#ff6a6a" stroke-width="0.6"/>
<text x="184.2" y="267.57">BS type RSU (w. Dynamic ICIC + CS-CoMP + Beamforming)</text>
<path d="M167.5 272.2 H181.8" stroke="#7474ff" stroke-width="0.6"/>
<text x="184.2" y="273.87">UE type RSU (w. Cell Range Expansion )</text>
<path d="M167.5 278.3 H181.8" stroke="#22ee66" stroke-width="0.75"/>
<text x="184.2" y="279.97">BS type RSU (w. Dynamic ICIC + CS-CoMP + Beamforming)+ UE type RSU (w. Cell Range Expansion )</text>
</g>
<rect x="231.2" y="340.3" width="79" height="49.9" fill="none" stroke="#ff0000" stroke-width="2" stroke-dasharray="2 2"/>
<path d="M231.2 390.2 L274.6 472" stroke="#ff2020" stroke-width="0.7" stroke-dasharray="1.4 1.2" fill="none"/>
<path d="M310.2 340.3 L404.5 384.5" stroke="#ff2020" stroke-width="0.7" stroke-dasharray="1.4 1.2" fill="none"/>
<rect x="273.5" y="383" width="132.3" height="90" fill="#fff"/>
<clipPath id="c273"><rect x="274.75" y="384.25" width="129.8" height="87.5"/></clipPath>
<path d="M317.7 383 V473 M357.9 383 V473 M398.3 383 V473 M273.5 387.5 H405.8 M273.5 428.3 H405.8 M273.5 469 H405.8" stroke="#d8d8d8" stroke-width="0.65" fill="none"/>
<g clip-path="url(#c273)" fill="none" stroke-linejoin="round">
<path d="M275.8 436.7 L276.91 435.46 L278.01 434.43 L279.12 433.84 L280.22 433.01 L281.33 432.21 L282.43 431.28 L283.54 430.27 L284.64 429.22 L285.75 428.08 L286.85 427.13 L287.96 426.48 L289.06 426.14 L290.17 425.95 L291.27 425.53 L292.38 425 L293.48 424.7 L294.59 424.24 L295.69 423.73 L296.8 423.31 L297.9 422.79 L299.01 422.14 L300.11 421.13 L301.22 420.24 L302.32 419.4 L303.43 418.79 L304.53 418.19 L305.64 416.78 L306.74 415.41 L307.85 414.59 L308.95 413.55 L310.06 412.81 L311.16 412.06 L312.27 410.68 L313.37 409.68 L314.48 408.65 L315.58 406.98 L316.69 404.63 L317.79 401.79 L318.9 399.8 L320 398.7 L321.11 397.48 L322.21 396.84 L323.32 396.69 L324.42 395.53 L325.53 394.26 L326.63 393.91 L327.74 393.16 L328.84 392.14 L329.95 391.24 L331.05 390.51 L332.16 389.7 L333.26 389.01 L334.37 388.52 L335.47 387.71 L336.58 386.75 L337.68 385.92 L338.79 385.43 L339.89 384.61 L341 384" stroke="#ff3030" stroke-width="1.3"/>
<path d="M275.8 440.5 L277.97 439.2 L280.15 437.94 L282.32 436.69 L284.49 435.41 L286.66 434.13 L288.84 432.89 L291.01 431.66 L293.18 430.39 L295.36 429.13 L297.53 427.88 L299.7 426.65 L301.87 425.44 L304.05 424.19 L306.22 422.9 L308.39 421.63 L310.57 420.36 L312.74 419.09 L314.91 417.83 L317.08 416.59 L319.26 415.39 L321.43 414.19 L323.6 413.01 L325.78 411.88 L327.95 410.8 L330.12 409.75 L332.29 408.73 L334.47 407.74 L336.64 406.79 L338.81 405.85 L340.99 404.92 L343.16 404.01 L345.33 403.11 L347.51 402.24 L349.68 401.41 L351.85 400.58 L354.02 399.76 L356.2 398.96 L358.37 398.18 L360.54 397.42 L362.72 396.67 L364.89 395.93 L367.06 395.23 L369.23 394.59 L371.41 393.94 L373.58 393.26 L375.75 392.62 L377.93 391.97 L380.1 391.35 L382.27 390.74 L384.44 390.09 L386.62 389.46 L388.79 388.83 L390.96 388.17 L393.14 387.49 L395.31 386.8 L397.48 386.12 L399.65 385.39 L401.83 384.59 L404 383.8" stroke="#3c3cff" stroke-width="1.3"/>
<path d="M284.1 470.9 L286.11 469.34 L288.12 467.61 L290.13 466.67 L292.14 465.61 L294.15 464.17 L296.16 462.81 L298.17 461.66 L300.18 460.69 L302.19 459.54 L304.2 457.98 L306.21 456.94 L308.22 455.92 L310.23 455.09 L312.24 454.31 L314.25 453.16 L316.26 452.35 L318.27 451.22 L320.28 450.47 L322.29 449.74 L324.3 449.04 L326.31 448.27 L328.32 447.14 L330.33 446.64 L332.34 446.02 L334.35 444.8 L336.36 443.63 L338.37 443.19 L340.38 442.77 L342.39 441.9 L344.41 440.89 L346.42 439.85 L348.43 439.04 L350.44 438.65 L352.45 438.09 L354.46 437.35 L356.47 436.35 L358.48 435.79 L360.49 435.44 L362.5 434.23 L364.51 433.61 L366.52 433.61 L368.53 433.61 L370.54 432.7 L372.55 431.76 L374.56 431.76 L376.57 431.34 L378.58 430.76 L380.59 430.35 L382.6 429.89 L384.61 429.21 L386.62 428.48 L388.63 427.85 L390.64 427.07 L392.65 426.24 L394.66 425.35 L396.67 424.27 L398.68 423.22 L400.69 421.68 L402.7 420.4" stroke="#10ee40" stroke-width="1.5"/>
</g>
<rect x="274.75" y="384.25" width="129.8" height="87.5" fill="none" stroke="#ff0000" stroke-width="2.5"/>
<path d="M324.8 380.3 L289.2 426.3" stroke="#3c3cff" stroke-width="0.75" fill="none"/>
<path d="M289.2 426.3 L293.83 424.07 L290.2 421.25 Z" fill="#1010ff"/>
<path d="M356 380.3 L299.2 427.2" stroke="#3c3cff" stroke-width="0.75" fill="none"/>
<path d="M299.2 427.2 L304.21 426.04 L301.28 422.5 Z" fill="#1010ff"/>
<path d="M388.3 381 L387.2 427.2" stroke="#3c3cff" stroke-width="0.75" fill="none"/>
<path d="M387.2 427.2 L389.61 422.66 L385.01 422.55 Z" fill="#1010ff"/>
<circle cx="288.4" cy="427.3" r="1.9" fill="#0a2a8c"/>
<circle cx="298.2" cy="428.1" r="1.9" fill="#0a2a8c"/>
<circle cx="387.1" cy="428.8" r="1.9" fill="#0a2a8c"/>
<rect x="311.6" y="365.5" width="28.5" height="14.7" fill="#fff" stroke="#3535ff" stroke-width="1.1"/>
<text x="325.85" y="375.7" text-anchor="middle" font-family='"Liberation Sans", Arial, sans-serif' font-size="7.9" fill="#1a1a1a" stroke="#1a1a1a" stroke-width="0.15">3.276</text>
<rect x="342.8" y="365.5" width="28.1" height="14.7" fill="#fff" stroke="#3535ff" stroke-width="1.1"/>
<text x="356.85" y="375.7" text-anchor="middle" font-family='"Liberation Sans", Arial, sans-serif' font-size="7.9" fill="#1a1a1a" stroke="#1a1a1a" stroke-width="0.15">3. 479</text>
<rect x="374.1" y="366.6" width="28.3" height="14.4" fill="#fff" stroke="#3535ff" stroke-width="1.1"/>
<text x="388.25" y="376.65" text-anchor="middle" font-family='"Liberation Sans", Arial, sans-serif' font-size="7.9" fill="#1a1a1a" stroke="#1a1a1a" stroke-width="0.15">5.85</text>
<text x="276" y="503.4" text-anchor="middle" font-family='"Liberation Serif", "DejaVu Serif", serif' font-size="13" fill="#111">(<tspan font-weight="bold">c</tspan>)</text>
</svg>
</body></html>
